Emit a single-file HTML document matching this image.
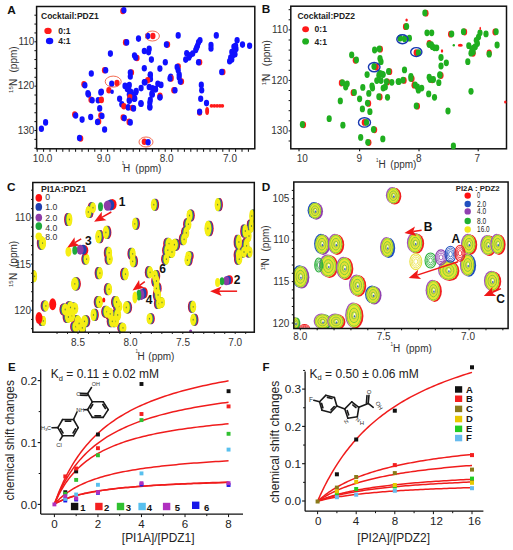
<!DOCTYPE html>
<html><head><meta charset="utf-8"><style>
html,body{margin:0;padding:0;background:#fff;}
svg{display:block;font-family:"Liberation Sans", sans-serif;}
</style></head><body>
<svg width="513" height="550" viewBox="0 0 513 550">
<rect width="513" height="550" fill="#fff"/>
<text x="7.30" y="14.30" font-size="11.8" text-anchor="start" font-weight="bold" fill="#111" >A</text>
<line x1="34.40" y1="15.20" x2="36.60" y2="15.20" stroke="#111" stroke-width="1"/>
<line x1="34.40" y1="24.07" x2="36.60" y2="24.07" stroke="#111" stroke-width="1"/>
<line x1="34.40" y1="32.94" x2="36.60" y2="32.94" stroke="#111" stroke-width="1"/>
<line x1="34.40" y1="41.81" x2="36.60" y2="41.81" stroke="#111" stroke-width="1"/>
<line x1="34.40" y1="50.68" x2="36.60" y2="50.68" stroke="#111" stroke-width="1"/>
<line x1="34.40" y1="59.55" x2="36.60" y2="59.55" stroke="#111" stroke-width="1"/>
<line x1="34.40" y1="68.42" x2="36.60" y2="68.42" stroke="#111" stroke-width="1"/>
<line x1="34.40" y1="77.29" x2="36.60" y2="77.29" stroke="#111" stroke-width="1"/>
<line x1="34.40" y1="86.16" x2="36.60" y2="86.16" stroke="#111" stroke-width="1"/>
<line x1="34.40" y1="95.03" x2="36.60" y2="95.03" stroke="#111" stroke-width="1"/>
<line x1="34.40" y1="103.90" x2="36.60" y2="103.90" stroke="#111" stroke-width="1"/>
<line x1="34.40" y1="112.77" x2="36.60" y2="112.77" stroke="#111" stroke-width="1"/>
<line x1="34.40" y1="121.64" x2="36.60" y2="121.64" stroke="#111" stroke-width="1"/>
<line x1="34.40" y1="130.51" x2="36.60" y2="130.51" stroke="#111" stroke-width="1"/>
<line x1="34.40" y1="139.38" x2="36.60" y2="139.38" stroke="#111" stroke-width="1"/>
<line x1="34.40" y1="148.25" x2="36.60" y2="148.25" stroke="#111" stroke-width="1"/>
<line x1="37.20" y1="148.80" x2="37.20" y2="151.80" stroke="#111" stroke-width="1"/>
<line x1="43.60" y1="148.80" x2="43.60" y2="151.80" stroke="#111" stroke-width="1"/>
<line x1="50.00" y1="148.80" x2="50.00" y2="151.80" stroke="#111" stroke-width="1"/>
<line x1="56.40" y1="148.80" x2="56.40" y2="151.80" stroke="#111" stroke-width="1"/>
<line x1="62.80" y1="148.80" x2="62.80" y2="151.80" stroke="#111" stroke-width="1"/>
<line x1="69.20" y1="148.80" x2="69.20" y2="151.80" stroke="#111" stroke-width="1"/>
<line x1="75.60" y1="148.80" x2="75.60" y2="151.80" stroke="#111" stroke-width="1"/>
<line x1="82.00" y1="148.80" x2="82.00" y2="151.80" stroke="#111" stroke-width="1"/>
<line x1="88.40" y1="148.80" x2="88.40" y2="151.80" stroke="#111" stroke-width="1"/>
<line x1="94.80" y1="148.80" x2="94.80" y2="151.80" stroke="#111" stroke-width="1"/>
<line x1="101.20" y1="148.80" x2="101.20" y2="151.80" stroke="#111" stroke-width="1"/>
<line x1="107.60" y1="148.80" x2="107.60" y2="151.80" stroke="#111" stroke-width="1"/>
<line x1="114.00" y1="148.80" x2="114.00" y2="151.80" stroke="#111" stroke-width="1"/>
<line x1="120.40" y1="148.80" x2="120.40" y2="151.80" stroke="#111" stroke-width="1"/>
<line x1="126.80" y1="148.80" x2="126.80" y2="151.80" stroke="#111" stroke-width="1"/>
<line x1="133.20" y1="148.80" x2="133.20" y2="151.80" stroke="#111" stroke-width="1"/>
<line x1="139.60" y1="148.80" x2="139.60" y2="151.80" stroke="#111" stroke-width="1"/>
<line x1="146.00" y1="148.80" x2="146.00" y2="151.80" stroke="#111" stroke-width="1"/>
<line x1="152.40" y1="148.80" x2="152.40" y2="151.80" stroke="#111" stroke-width="1"/>
<line x1="158.80" y1="148.80" x2="158.80" y2="151.80" stroke="#111" stroke-width="1"/>
<line x1="165.20" y1="148.80" x2="165.20" y2="151.80" stroke="#111" stroke-width="1"/>
<line x1="171.60" y1="148.80" x2="171.60" y2="151.80" stroke="#111" stroke-width="1"/>
<line x1="178.00" y1="148.80" x2="178.00" y2="151.80" stroke="#111" stroke-width="1"/>
<line x1="184.40" y1="148.80" x2="184.40" y2="151.80" stroke="#111" stroke-width="1"/>
<line x1="190.80" y1="148.80" x2="190.80" y2="151.80" stroke="#111" stroke-width="1"/>
<line x1="197.20" y1="148.80" x2="197.20" y2="151.80" stroke="#111" stroke-width="1"/>
<line x1="203.60" y1="148.80" x2="203.60" y2="151.80" stroke="#111" stroke-width="1"/>
<line x1="210.00" y1="148.80" x2="210.00" y2="151.80" stroke="#111" stroke-width="1"/>
<line x1="216.40" y1="148.80" x2="216.40" y2="151.80" stroke="#111" stroke-width="1"/>
<line x1="222.80" y1="148.80" x2="222.80" y2="151.80" stroke="#111" stroke-width="1"/>
<line x1="229.20" y1="148.80" x2="229.20" y2="151.80" stroke="#111" stroke-width="1"/>
<line x1="235.60" y1="148.80" x2="235.60" y2="151.80" stroke="#111" stroke-width="1"/>
<line x1="242.00" y1="148.80" x2="242.00" y2="151.80" stroke="#111" stroke-width="1"/>
<line x1="248.40" y1="148.80" x2="248.40" y2="151.80" stroke="#111" stroke-width="1"/>
<rect x="36.60" y="6.50" width="218.20" height="142.30" fill="none" stroke="#111" stroke-width="1.5"/>
<text x="42.60" y="161.60" font-size="10" text-anchor="middle" font-weight="normal" fill="#333" >10.0</text>
<text x="103.60" y="161.60" font-size="10" text-anchor="middle" font-weight="normal" fill="#333" >9.0</text>
<text x="166.70" y="161.60" font-size="10" text-anchor="middle" font-weight="normal" fill="#333" >8.0</text>
<text x="230.00" y="161.60" font-size="10" text-anchor="middle" font-weight="normal" fill="#333" >7.0</text>
<text x="34.40" y="45.10" font-size="10" text-anchor="end" font-weight="normal" fill="#333" >110</text>
<text x="34.40" y="89.10" font-size="10" text-anchor="end" font-weight="normal" fill="#333" >120</text>
<text x="34.40" y="134.10" font-size="10" text-anchor="end" font-weight="normal" fill="#333" >130</text>
<text x="121.70" y="165.00" font-size="4.6" fill="#333">1</text>
<text x="123.00" y="171.60" font-size="10" fill="#333">H</text>
<text x="135.30" y="171.60" font-size="10" fill="#333">(ppm)</text>
<text transform="translate(17.20,92.90) rotate(-90)" font-size="6" fill="#333" dy="-4">15</text>
<text transform="translate(17.20,86.00) rotate(-90)" font-size="10" fill="#333">N</text>
<text transform="translate(17.20,72.50) rotate(-90)" font-size="10" fill="#333">(ppm)</text>
<text x="41.00" y="19.10" font-size="8.5" text-anchor="start" font-weight="bold" fill="#222" >Cocktail:PDZ1</text>
<ellipse cx="122.80" cy="11.00" rx="2.60" ry="3.30" fill="#ff1a1a" />
<ellipse cx="123.90" cy="10.30" rx="2.60" ry="3.30" fill="#1010ff" />
<ellipse cx="138.50" cy="38.60" rx="2.60" ry="3.30" fill="#1010ff" />
<ellipse cx="125.50" cy="42.40" rx="2.60" ry="3.30" fill="#ff1a1a" />
<ellipse cx="126.70" cy="42.40" rx="2.60" ry="3.30" fill="#1010ff" />
<ellipse cx="110.40" cy="53.60" rx="2.60" ry="3.30" fill="#1010ff" />
<ellipse cx="137.00" cy="58.00" rx="2.60" ry="3.30" fill="#ff1a1a" />
<ellipse cx="134.50" cy="55.50" rx="2.60" ry="3.30" fill="#1010ff" />
<ellipse cx="135.70" cy="57.50" rx="2.60" ry="3.30" fill="#1010ff" />
<ellipse cx="144.30" cy="51.00" rx="2.60" ry="3.30" fill="#1010ff" />
<ellipse cx="104.50" cy="70.30" rx="2.60" ry="3.30" fill="#ff1a1a" />
<ellipse cx="105.70" cy="70.30" rx="2.60" ry="3.30" fill="#1010ff" />
<ellipse cx="91.30" cy="73.50" rx="2.60" ry="3.30" fill="#1010ff" />
<ellipse cx="131.50" cy="72.50" rx="2.60" ry="3.30" fill="#ff1a1a" />
<ellipse cx="130.30" cy="72.50" rx="2.60" ry="3.30" fill="#1010ff" />
<ellipse cx="144.30" cy="68.20" rx="2.60" ry="3.30" fill="#1010ff" />
<ellipse cx="147.70" cy="36.00" rx="2.60" ry="3.30" fill="#1010ff" />
<ellipse cx="152.90" cy="36.00" rx="2.60" ry="3.30" fill="#ff1a1a" />
<ellipse cx="178.20" cy="35.40" rx="2.60" ry="3.30" fill="#1010ff" />
<ellipse cx="167.60" cy="44.60" rx="2.60" ry="3.30" fill="#ff1a1a" />
<ellipse cx="166.40" cy="44.60" rx="2.60" ry="3.30" fill="#1010ff" />
<ellipse cx="149.20" cy="48.90" rx="2.60" ry="3.30" fill="#1010ff" />
<ellipse cx="148.60" cy="52.10" rx="2.60" ry="3.30" fill="#1010ff" />
<ellipse cx="151.40" cy="59.60" rx="2.60" ry="3.30" fill="#1010ff" />
<ellipse cx="165.30" cy="62.20" rx="2.60" ry="3.30" fill="#1010ff" />
<ellipse cx="159.90" cy="68.60" rx="2.60" ry="3.30" fill="#1010ff" />
<ellipse cx="178.30" cy="66.50" rx="2.60" ry="3.30" fill="#ff1a1a" />
<ellipse cx="177.10" cy="67.10" rx="2.60" ry="3.30" fill="#1010ff" />
<ellipse cx="178.20" cy="70.30" rx="2.60" ry="3.30" fill="#1010ff" />
<ellipse cx="179.20" cy="74.60" rx="2.60" ry="3.30" fill="#1010ff" />
<ellipse cx="150.30" cy="74.60" rx="2.60" ry="3.30" fill="#1010ff" />
<ellipse cx="170.70" cy="76.80" rx="2.60" ry="3.30" fill="#1010ff" />
<ellipse cx="186.70" cy="53.20" rx="2.60" ry="3.30" fill="#1010ff" />
<ellipse cx="190.00" cy="55.30" rx="2.60" ry="3.30" fill="#1010ff" />
<ellipse cx="185.70" cy="59.60" rx="2.60" ry="3.30" fill="#1010ff" />
<ellipse cx="195.70" cy="50.00" rx="2.60" ry="3.30" fill="#1010ff" />
<ellipse cx="197.50" cy="45.70" rx="2.60" ry="3.30" fill="#1010ff" />
<ellipse cx="200.00" cy="40.30" rx="2.60" ry="3.30" fill="#1010ff" />
<ellipse cx="199.70" cy="62.20" rx="2.60" ry="3.30" fill="#ff1a1a" />
<ellipse cx="198.50" cy="62.20" rx="2.60" ry="3.30" fill="#1010ff" />
<ellipse cx="216.30" cy="35.40" rx="2.60" ry="3.30" fill="#1010ff" />
<ellipse cx="211.00" cy="45.00" rx="2.60" ry="3.30" fill="#1010ff" />
<ellipse cx="211.00" cy="48.50" rx="2.60" ry="3.30" fill="#1010ff" />
<ellipse cx="222.90" cy="72.00" rx="2.60" ry="3.30" fill="#ff1a1a" />
<ellipse cx="221.70" cy="72.00" rx="2.60" ry="3.30" fill="#1010ff" />
<ellipse cx="237.10" cy="40.30" rx="2.60" ry="3.30" fill="#1010ff" />
<ellipse cx="233.90" cy="46.70" rx="2.60" ry="3.30" fill="#1010ff" />
<ellipse cx="231.80" cy="52.10" rx="2.60" ry="3.30" fill="#1010ff" />
<ellipse cx="230.70" cy="57.50" rx="2.60" ry="3.30" fill="#1010ff" />
<ellipse cx="229.60" cy="61.30" rx="2.60" ry="3.30" fill="#1010ff" />
<ellipse cx="235.00" cy="54.20" rx="2.60" ry="3.30" fill="#1010ff" />
<ellipse cx="242.50" cy="44.60" rx="2.60" ry="3.30" fill="#1010ff" />
<ellipse cx="249.60" cy="45.70" rx="2.60" ry="3.30" fill="#1010ff" />
<ellipse cx="111.70" cy="83.80" rx="2.60" ry="3.30" fill="#1010ff" />
<ellipse cx="117.00" cy="83.10" rx="2.60" ry="3.30" fill="#ff1a1a" />
<ellipse cx="108.90" cy="90.20" rx="2.60" ry="3.30" fill="#ff1a1a" />
<ellipse cx="112.10" cy="91.70" rx="1.80" ry="2.30" fill="#1010ff" />
<ellipse cx="83.90" cy="84.30" rx="2.60" ry="3.30" fill="#ff1a1a" />
<ellipse cx="84.90" cy="85.30" rx="2.60" ry="3.30" fill="#1010ff" />
<ellipse cx="87.90" cy="93.40" rx="2.60" ry="3.30" fill="#1010ff" />
<ellipse cx="88.50" cy="94.50" rx="2.60" ry="3.30" fill="#1010ff" />
<ellipse cx="100.80" cy="92.40" rx="2.60" ry="3.30" fill="#1010ff" />
<ellipse cx="91.00" cy="99.80" rx="2.60" ry="3.30" fill="#ff1a1a" />
<ellipse cx="92.20" cy="100.30" rx="2.60" ry="3.30" fill="#1010ff" />
<ellipse cx="98.20" cy="100.30" rx="2.60" ry="3.30" fill="#1010ff" />
<ellipse cx="101.40" cy="99.90" rx="2.60" ry="3.30" fill="#ff1a1a" />
<ellipse cx="99.70" cy="108.40" rx="2.60" ry="3.30" fill="#1010ff" />
<ellipse cx="100.80" cy="115.50" rx="2.60" ry="3.30" fill="#ff1a1a" />
<ellipse cx="102.00" cy="116.00" rx="2.60" ry="3.30" fill="#1010ff" />
<ellipse cx="98.70" cy="121.50" rx="2.60" ry="3.30" fill="#ff1a1a" />
<ellipse cx="97.50" cy="122.00" rx="2.60" ry="3.30" fill="#1010ff" />
<ellipse cx="104.60" cy="129.50" rx="2.60" ry="3.30" fill="#1010ff" />
<ellipse cx="74.70" cy="114.50" rx="2.60" ry="3.30" fill="#ff1a1a" />
<ellipse cx="75.70" cy="115.50" rx="2.60" ry="3.30" fill="#1010ff" />
<ellipse cx="82.10" cy="119.60" rx="2.60" ry="3.30" fill="#1010ff" />
<ellipse cx="90.70" cy="117.00" rx="2.60" ry="3.30" fill="#1010ff" />
<ellipse cx="80.70" cy="138.50" rx="2.60" ry="3.30" fill="#ff1a1a" />
<ellipse cx="79.50" cy="138.00" rx="2.60" ry="3.30" fill="#1010ff" />
<ellipse cx="45.60" cy="122.40" rx="2.60" ry="3.30" fill="#1010ff" />
<ellipse cx="41.40" cy="128.80" rx="2.60" ry="3.30" fill="#1010ff" />
<ellipse cx="125.00" cy="85.90" rx="2.60" ry="3.30" fill="#1010ff" />
<ellipse cx="128.60" cy="87.40" rx="2.60" ry="3.30" fill="#1010ff" />
<ellipse cx="130.30" cy="93.40" rx="2.60" ry="3.30" fill="#1010ff" />
<ellipse cx="135.70" cy="92.40" rx="2.60" ry="3.30" fill="#1010ff" />
<ellipse cx="141.10" cy="88.10" rx="2.60" ry="3.30" fill="#1010ff" />
<ellipse cx="144.30" cy="82.30" rx="2.60" ry="3.30" fill="#1010ff" />
<ellipse cx="119.60" cy="98.80" rx="2.60" ry="3.30" fill="#1010ff" />
<ellipse cx="121.80" cy="104.20" rx="2.60" ry="3.30" fill="#1010ff" />
<ellipse cx="123.90" cy="106.30" rx="2.60" ry="3.30" fill="#ff1a1a" />
<ellipse cx="129.30" cy="99.90" rx="2.60" ry="3.30" fill="#1010ff" />
<ellipse cx="134.20" cy="98.80" rx="2.60" ry="3.30" fill="#1010ff" />
<ellipse cx="128.20" cy="107.40" rx="2.60" ry="3.30" fill="#1010ff" />
<ellipse cx="132.40" cy="108.00" rx="2.60" ry="3.30" fill="#ff1a1a" />
<ellipse cx="133.60" cy="108.40" rx="2.60" ry="3.30" fill="#1010ff" />
<ellipse cx="141.10" cy="103.70" rx="2.60" ry="3.30" fill="#1010ff" />
<ellipse cx="123.10" cy="117.60" rx="2.60" ry="3.30" fill="#ff1a1a" />
<ellipse cx="124.30" cy="118.10" rx="2.60" ry="3.30" fill="#1010ff" />
<ellipse cx="129.10" cy="121.90" rx="2.60" ry="3.30" fill="#ff1a1a" />
<ellipse cx="130.30" cy="122.40" rx="2.60" ry="3.30" fill="#1010ff" />
<ellipse cx="144.30" cy="141.70" rx="2.60" ry="3.30" fill="#ff1a1a" />
<ellipse cx="148.10" cy="142.30" rx="2.60" ry="3.30" fill="#1010ff" />
<ellipse cx="150.30" cy="75.20" rx="2.60" ry="3.30" fill="#1010ff" />
<ellipse cx="171.20" cy="78.40" rx="2.60" ry="3.30" fill="#ff1a1a" />
<ellipse cx="170.00" cy="78.40" rx="2.60" ry="3.30" fill="#1010ff" />
<ellipse cx="179.20" cy="77.40" rx="2.60" ry="3.30" fill="#1010ff" />
<ellipse cx="181.50" cy="81.60" rx="2.60" ry="3.30" fill="#ff1a1a" />
<ellipse cx="180.30" cy="81.60" rx="2.60" ry="3.30" fill="#1010ff" />
<ellipse cx="149.20" cy="87.00" rx="2.60" ry="3.30" fill="#1010ff" />
<ellipse cx="155.60" cy="89.20" rx="2.60" ry="3.30" fill="#1010ff" />
<ellipse cx="152.40" cy="94.50" rx="2.60" ry="3.30" fill="#1010ff" />
<ellipse cx="157.80" cy="83.80" rx="2.60" ry="3.30" fill="#1010ff" />
<ellipse cx="161.00" cy="84.90" rx="2.60" ry="3.30" fill="#1010ff" />
<ellipse cx="173.80" cy="90.20" rx="2.60" ry="3.30" fill="#ff1a1a" />
<ellipse cx="175.00" cy="90.20" rx="2.60" ry="3.30" fill="#1010ff" />
<ellipse cx="159.90" cy="97.30" rx="2.60" ry="3.30" fill="#1010ff" />
<ellipse cx="150.30" cy="99.90" rx="2.60" ry="3.30" fill="#1010ff" />
<ellipse cx="149.90" cy="107.40" rx="2.60" ry="3.30" fill="#1010ff" />
<ellipse cx="201.30" cy="84.90" rx="2.60" ry="3.30" fill="#1010ff" />
<ellipse cx="201.70" cy="90.20" rx="2.60" ry="3.30" fill="#1010ff" />
<ellipse cx="200.70" cy="98.80" rx="2.60" ry="3.30" fill="#1010ff" />
<ellipse cx="206.50" cy="103.10" rx="2.60" ry="3.30" fill="#1010ff" />
<ellipse cx="199.60" cy="112.50" rx="2.60" ry="3.30" fill="#ff1a1a" />
<ellipse cx="199.60" cy="111.70" rx="2.60" ry="3.30" fill="#1010ff" />
<ellipse cx="192.70" cy="53.60" rx="2.60" ry="3.30" fill="#1010ff" />
<ellipse cx="198.50" cy="42.40" rx="2.60" ry="3.30" fill="#1010ff" />
<ellipse cx="196.60" cy="47.80" rx="2.60" ry="3.30" fill="#1010ff" />
<ellipse cx="188.90" cy="57.50" rx="2.60" ry="3.30" fill="#1010ff" />
<ellipse cx="236.00" cy="48.90" rx="2.60" ry="3.30" fill="#1010ff" />
<ellipse cx="232.80" cy="55.30" rx="2.60" ry="3.30" fill="#1010ff" />
<ellipse cx="235.60" cy="45.70" rx="2.60" ry="3.30" fill="#1010ff" />
<ellipse cx="231.80" cy="59.60" rx="2.60" ry="3.30" fill="#1010ff" />
<ellipse cx="130.30" cy="76.50" rx="2.60" ry="3.30" fill="#1010ff" />
<ellipse cx="150.50" cy="79.00" rx="2.60" ry="3.30" fill="#1010ff" />
<ellipse cx="147.70" cy="80.20" rx="2.60" ry="3.30" fill="#ff1a1a" />
<ellipse cx="145.00" cy="82.30" rx="2.60" ry="3.30" fill="#1010ff" />
<ellipse cx="129.30" cy="85.00" rx="2.60" ry="3.30" fill="#1010ff" />
<ellipse cx="127.30" cy="89.10" rx="2.60" ry="3.30" fill="#1010ff" />
<ellipse cx="130.70" cy="91.80" rx="2.60" ry="3.30" fill="#1010ff" />
<ellipse cx="129.30" cy="94.60" rx="2.60" ry="3.30" fill="#1010ff" />
<ellipse cx="136.20" cy="91.10" rx="2.60" ry="3.30" fill="#1010ff" />
<ellipse cx="133.40" cy="95.20" rx="2.60" ry="3.30" fill="#1010ff" />
<ellipse cx="130.00" cy="97.30" rx="2.60" ry="3.30" fill="#ff1a1a" />
<ellipse cx="134.80" cy="98.60" rx="2.60" ry="3.30" fill="#1010ff" />
<ellipse cx="129.30" cy="100.70" rx="2.60" ry="3.30" fill="#1010ff" />
<ellipse cx="152.50" cy="88.40" rx="2.60" ry="3.30" fill="#1010ff" />
<ellipse cx="155.30" cy="89.10" rx="2.60" ry="3.30" fill="#1010ff" />
<ellipse cx="151.80" cy="93.90" rx="2.60" ry="3.30" fill="#1010ff" />
<ellipse cx="149.80" cy="102.70" rx="2.60" ry="3.30" fill="#1010ff" />
<ellipse cx="149.80" cy="106.80" rx="2.60" ry="3.30" fill="#1010ff" />
<ellipse cx="160.00" cy="95.80" rx="2.60" ry="3.30" fill="#ff1a1a" />
<ellipse cx="160.00" cy="97.30" rx="2.60" ry="3.30" fill="#1010ff" />
<ellipse cx="140.90" cy="103.40" rx="2.60" ry="3.30" fill="#1010ff" />
<ellipse cx="101.40" cy="91.80" rx="2.60" ry="3.30" fill="#1010ff" />
<ellipse cx="207.1" cy="111" rx="2" ry="4" fill="#ff1a1a"/>
<ellipse cx="211.50" cy="105.90" rx="1.90" ry="1.80" fill="#ff1a1a" />
<ellipse cx="214.30" cy="105.90" rx="1.90" ry="1.80" fill="#ff1a1a" />
<ellipse cx="217.10" cy="105.90" rx="1.90" ry="1.80" fill="#ff1a1a" />
<ellipse cx="219.90" cy="105.90" rx="1.90" ry="1.80" fill="#ff1a1a" />
<ellipse cx="222.30" cy="105.90" rx="1.90" ry="1.80" fill="#ff1a1a" />
<ellipse cx="152.4" cy="36" rx="7" ry="5" fill="none" stroke="#f05a3c" stroke-width="0.9"/>
<ellipse cx="113.2" cy="81.6" rx="8" ry="5.5" fill="none" stroke="#f05a3c" stroke-width="0.9"/>
<ellipse cx="146" cy="142" rx="7" ry="5" fill="none" stroke="#f05a3c" stroke-width="0.9"/>
<ellipse cx="48.00" cy="30.90" rx="3.70" ry="3.10" fill="#ff1a1a" />
<ellipse cx="49.60" cy="41.00" rx="3.70" ry="3.20" fill="#1010ff" />
<text x="58.30" y="34.10" font-size="8.5" text-anchor="start" font-weight="bold" fill="#222" >0:1</text>
<text x="58.30" y="44.20" font-size="8.5" text-anchor="start" font-weight="bold" fill="#222" >4:1</text>
<text x="261.70" y="12.60" font-size="11.8" text-anchor="start" font-weight="bold" fill="#111" >B</text>
<line x1="288.60" y1="9.70" x2="290.80" y2="9.70" stroke="#111" stroke-width="1"/>
<line x1="288.60" y1="19.80" x2="290.80" y2="19.80" stroke="#111" stroke-width="1"/>
<line x1="288.60" y1="29.90" x2="290.80" y2="29.90" stroke="#111" stroke-width="1"/>
<line x1="288.60" y1="40.00" x2="290.80" y2="40.00" stroke="#111" stroke-width="1"/>
<line x1="288.60" y1="50.10" x2="290.80" y2="50.10" stroke="#111" stroke-width="1"/>
<line x1="288.60" y1="60.20" x2="290.80" y2="60.20" stroke="#111" stroke-width="1"/>
<line x1="288.60" y1="70.30" x2="290.80" y2="70.30" stroke="#111" stroke-width="1"/>
<line x1="288.60" y1="80.40" x2="290.80" y2="80.40" stroke="#111" stroke-width="1"/>
<line x1="288.60" y1="90.50" x2="290.80" y2="90.50" stroke="#111" stroke-width="1"/>
<line x1="288.60" y1="100.60" x2="290.80" y2="100.60" stroke="#111" stroke-width="1"/>
<line x1="288.60" y1="110.70" x2="290.80" y2="110.70" stroke="#111" stroke-width="1"/>
<line x1="288.60" y1="120.80" x2="290.80" y2="120.80" stroke="#111" stroke-width="1"/>
<line x1="288.60" y1="130.90" x2="290.80" y2="130.90" stroke="#111" stroke-width="1"/>
<line x1="288.60" y1="141.00" x2="290.80" y2="141.00" stroke="#111" stroke-width="1"/>
<line x1="299.00" y1="148.80" x2="299.00" y2="151.30" stroke="#111" stroke-width="1.1"/>
<line x1="359.60" y1="148.80" x2="359.60" y2="151.30" stroke="#111" stroke-width="1.1"/>
<line x1="419.00" y1="148.80" x2="419.00" y2="151.30" stroke="#111" stroke-width="1.1"/>
<line x1="478.20" y1="148.80" x2="478.20" y2="151.30" stroke="#111" stroke-width="1.1"/>
<rect x="290.80" y="6.20" width="215.70" height="142.60" fill="none" stroke="#111" stroke-width="1.5"/>
<text x="302.20" y="161.80" font-size="10" text-anchor="middle" font-weight="normal" fill="#333" >10</text>
<text x="359.40" y="161.80" font-size="10" text-anchor="middle" font-weight="normal" fill="#333" >9</text>
<text x="418.80" y="161.80" font-size="10" text-anchor="middle" font-weight="normal" fill="#333" >8</text>
<text x="477.40" y="161.80" font-size="10" text-anchor="middle" font-weight="normal" fill="#333" >7</text>
<text x="288.00" y="33.20" font-size="10" text-anchor="end" font-weight="normal" fill="#333" >110</text>
<text x="288.00" y="83.70" font-size="10" text-anchor="end" font-weight="normal" fill="#333" >120</text>
<text x="288.00" y="133.70" font-size="10" text-anchor="end" font-weight="normal" fill="#333" >130</text>
<text x="376.10" y="162.00" font-size="4.6" fill="#333">1</text>
<text x="378.50" y="168.20" font-size="10" fill="#333">H</text>
<text x="390.30" y="168.20" font-size="10" fill="#333">(ppm)</text>
<text transform="translate(270.30,85.20) rotate(-90)" font-size="6" fill="#333" dy="-4">15</text>
<text transform="translate(270.30,80.90) rotate(-90)" font-size="10" fill="#333">N</text>
<text transform="translate(270.30,66.20) rotate(-90)" font-size="10" fill="#333">(ppm)</text>
<text x="297.40" y="19.30" font-size="8.5" text-anchor="start" font-weight="bold" fill="#222" >Cocktail:PDZ2</text>
<ellipse cx="305.60" cy="29.20" rx="3.40" ry="3.00" fill="#ff1a1a" />
<ellipse cx="305.60" cy="41.40" rx="3.40" ry="3.10" fill="#1fae1f" />
<text x="314.60" y="32.40" font-size="8.5" text-anchor="start" font-weight="bold" fill="#222" >0:1</text>
<text x="314.60" y="44.60" font-size="8.5" text-anchor="start" font-weight="bold" fill="#222" >4:1</text>
<ellipse cx="355.30" cy="60.30" rx="2.60" ry="3.40" fill="#ff1a1a" />
<ellipse cx="380.40" cy="49.20" rx="2.60" ry="3.40" fill="#ff1a1a" />
<ellipse cx="389.70" cy="71.70" rx="2.60" ry="3.40" fill="#ff1a1a" />
<ellipse cx="426.00" cy="13.20" rx="2.60" ry="3.40" fill="#ff1a1a" />
<ellipse cx="405.50" cy="26.70" rx="2.60" ry="3.40" fill="#ff1a1a" />
<ellipse cx="416.20" cy="52.70" rx="2.60" ry="3.40" fill="#ff1a1a" />
<ellipse cx="429.20" cy="43.40" rx="2.60" ry="3.40" fill="#ff1a1a" />
<ellipse cx="450.60" cy="34.20" rx="2.60" ry="3.40" fill="#ff1a1a" />
<ellipse cx="464.60" cy="32.00" rx="2.60" ry="3.40" fill="#ff1a1a" />
<ellipse cx="473.10" cy="53.30" rx="2.60" ry="3.40" fill="#ff1a1a" />
<ellipse cx="495.00" cy="32.00" rx="2.60" ry="3.40" fill="#ff1a1a" />
<ellipse cx="489.20" cy="53.00" rx="2.60" ry="3.40" fill="#ff1a1a" />
<ellipse cx="387.50" cy="81.90" rx="2.60" ry="3.40" fill="#ff1a1a" />
<ellipse cx="341.40" cy="83.00" rx="2.60" ry="3.40" fill="#ff1a1a" />
<ellipse cx="353.20" cy="92.70" rx="2.60" ry="3.40" fill="#ff1a1a" />
<ellipse cx="380.00" cy="97.00" rx="2.60" ry="3.40" fill="#ff1a1a" />
<ellipse cx="368.60" cy="103.40" rx="2.60" ry="3.40" fill="#ff1a1a" />
<ellipse cx="303.50" cy="124.80" rx="2.60" ry="3.40" fill="#ff1a1a" />
<ellipse cx="364.30" cy="122.40" rx="2.60" ry="3.40" fill="#ff1a1a" />
<ellipse cx="374.60" cy="129.80" rx="2.60" ry="3.40" fill="#ff1a1a" />
<ellipse cx="368.90" cy="142.60" rx="2.60" ry="3.40" fill="#ff1a1a" />
<ellipse cx="404.10" cy="80.40" rx="2.60" ry="3.40" fill="#ff1a1a" />
<ellipse cx="412.00" cy="78.70" rx="2.60" ry="3.40" fill="#ff1a1a" />
<ellipse cx="432.30" cy="79.80" rx="2.60" ry="3.40" fill="#ff1a1a" />
<ellipse cx="441.00" cy="75.50" rx="2.60" ry="3.40" fill="#ff1a1a" />
<ellipse cx="414.10" cy="85.20" rx="2.60" ry="3.40" fill="#ff1a1a" />
<ellipse cx="417.40" cy="106.20" rx="2.60" ry="3.40" fill="#ff1a1a" />
<ellipse cx="376.20" cy="67.00" rx="2.60" ry="3.40" fill="#ff1a1a" />
<ellipse cx="351.70" cy="54.90" rx="2.60" ry="3.40" fill="#1fae1f" />
<ellipse cx="356.40" cy="60.00" rx="2.60" ry="3.40" fill="#1fae1f" />
<ellipse cx="374.60" cy="50.00" rx="2.60" ry="3.40" fill="#1fae1f" />
<ellipse cx="379.30" cy="48.90" rx="2.60" ry="3.40" fill="#1fae1f" />
<ellipse cx="380.00" cy="58.50" rx="2.60" ry="3.40" fill="#1fae1f" />
<ellipse cx="381.00" cy="61.70" rx="2.60" ry="3.40" fill="#1fae1f" />
<ellipse cx="367.10" cy="74.60" rx="2.60" ry="3.40" fill="#1fae1f" />
<ellipse cx="380.00" cy="73.50" rx="2.60" ry="3.40" fill="#1fae1f" />
<ellipse cx="388.60" cy="71.40" rx="2.60" ry="3.40" fill="#1fae1f" />
<ellipse cx="383.20" cy="74.60" rx="2.60" ry="3.40" fill="#1fae1f" />
<ellipse cx="424.90" cy="12.90" rx="2.60" ry="3.40" fill="#1fae1f" />
<ellipse cx="406.60" cy="26.40" rx="2.60" ry="3.40" fill="#1fae1f" />
<ellipse cx="400.00" cy="38.20" rx="2.60" ry="3.40" fill="#1fae1f" />
<ellipse cx="404.50" cy="38.70" rx="2.60" ry="3.40" fill="#1fae1f" />
<ellipse cx="409.40" cy="38.20" rx="2.60" ry="3.40" fill="#1fae1f" />
<ellipse cx="418.40" cy="52.70" rx="2.60" ry="3.40" fill="#1fae1f" />
<ellipse cx="427.00" cy="32.80" rx="2.60" ry="3.40" fill="#1fae1f" />
<ellipse cx="431.70" cy="32.80" rx="2.60" ry="3.40" fill="#1fae1f" />
<ellipse cx="429.20" cy="44.60" rx="2.60" ry="3.40" fill="#1fae1f" />
<ellipse cx="432.40" cy="46.70" rx="2.60" ry="3.40" fill="#1fae1f" />
<ellipse cx="436.70" cy="47.80" rx="2.60" ry="3.40" fill="#1fae1f" />
<ellipse cx="441.00" cy="57.50" rx="2.60" ry="3.40" fill="#1fae1f" />
<ellipse cx="446.30" cy="62.80" rx="2.60" ry="3.40" fill="#1fae1f" />
<ellipse cx="441.00" cy="66.00" rx="2.60" ry="3.40" fill="#1fae1f" />
<ellipse cx="451.70" cy="33.90" rx="2.60" ry="3.40" fill="#1fae1f" />
<ellipse cx="463.50" cy="31.70" rx="2.60" ry="3.40" fill="#1fae1f" />
<ellipse cx="468.80" cy="45.70" rx="2.60" ry="3.40" fill="#1fae1f" />
<ellipse cx="473.80" cy="47.80" rx="2.60" ry="3.40" fill="#1fae1f" />
<ellipse cx="473.10" cy="52.10" rx="2.60" ry="3.40" fill="#1fae1f" />
<ellipse cx="477.40" cy="43.50" rx="2.60" ry="3.40" fill="#1fae1f" />
<ellipse cx="478.50" cy="37.10" rx="2.60" ry="3.40" fill="#1fae1f" />
<ellipse cx="480.00" cy="32.80" rx="2.60" ry="3.40" fill="#1fae1f" />
<ellipse cx="486.00" cy="33.90" rx="2.60" ry="3.40" fill="#1fae1f" />
<ellipse cx="496.10" cy="31.70" rx="2.60" ry="3.40" fill="#1fae1f" />
<ellipse cx="497.10" cy="45.00" rx="2.60" ry="3.40" fill="#1fae1f" />
<ellipse cx="489.20" cy="54.20" rx="2.60" ry="3.40" fill="#1fae1f" />
<ellipse cx="467.80" cy="61.70" rx="2.60" ry="3.40" fill="#1fae1f" />
<ellipse cx="404.50" cy="69.90" rx="2.60" ry="3.40" fill="#1fae1f" />
<ellipse cx="410.90" cy="76.30" rx="2.60" ry="3.40" fill="#1fae1f" />
<ellipse cx="429.20" cy="77.20" rx="2.60" ry="3.40" fill="#1fae1f" />
<ellipse cx="439.90" cy="74.60" rx="2.60" ry="3.40" fill="#1fae1f" />
<ellipse cx="378.90" cy="75.20" rx="2.60" ry="3.40" fill="#1fae1f" />
<ellipse cx="382.10" cy="74.10" rx="2.60" ry="3.40" fill="#1fae1f" />
<ellipse cx="376.80" cy="80.60" rx="2.60" ry="3.40" fill="#1fae1f" />
<ellipse cx="381.00" cy="80.60" rx="2.60" ry="3.40" fill="#1fae1f" />
<ellipse cx="386.40" cy="81.60" rx="2.60" ry="3.40" fill="#1fae1f" />
<ellipse cx="391.80" cy="82.30" rx="2.60" ry="3.40" fill="#1fae1f" />
<ellipse cx="398.20" cy="81.60" rx="2.60" ry="3.40" fill="#1fae1f" />
<ellipse cx="342.50" cy="82.70" rx="2.60" ry="3.40" fill="#1fae1f" />
<ellipse cx="347.20" cy="83.80" rx="2.60" ry="3.40" fill="#1fae1f" />
<ellipse cx="345.70" cy="87.00" rx="2.60" ry="3.40" fill="#1fae1f" />
<ellipse cx="362.80" cy="87.40" rx="2.60" ry="3.40" fill="#1fae1f" />
<ellipse cx="372.00" cy="85.90" rx="2.60" ry="3.40" fill="#1fae1f" />
<ellipse cx="372.50" cy="88.10" rx="2.60" ry="3.40" fill="#1fae1f" />
<ellipse cx="383.20" cy="88.10" rx="2.60" ry="3.40" fill="#1fae1f" />
<ellipse cx="385.30" cy="87.00" rx="2.60" ry="3.40" fill="#1fae1f" />
<ellipse cx="354.30" cy="92.40" rx="2.60" ry="3.40" fill="#1fae1f" />
<ellipse cx="368.80" cy="93.40" rx="2.60" ry="3.40" fill="#1fae1f" />
<ellipse cx="378.90" cy="96.70" rx="2.60" ry="3.40" fill="#1fae1f" />
<ellipse cx="387.50" cy="97.30" rx="2.60" ry="3.40" fill="#1fae1f" />
<ellipse cx="340.30" cy="100.90" rx="2.60" ry="3.40" fill="#1fae1f" />
<ellipse cx="359.60" cy="98.80" rx="2.60" ry="3.40" fill="#1fae1f" />
<ellipse cx="367.50" cy="103.10" rx="2.60" ry="3.40" fill="#1fae1f" />
<ellipse cx="362.40" cy="108.90" rx="2.60" ry="3.40" fill="#1fae1f" />
<ellipse cx="369.90" cy="111.70" rx="2.60" ry="3.40" fill="#1fae1f" />
<ellipse cx="329.20" cy="118.70" rx="2.60" ry="3.40" fill="#1fae1f" />
<ellipse cx="302.40" cy="124.50" rx="2.60" ry="3.40" fill="#1fae1f" />
<ellipse cx="342.90" cy="125.20" rx="2.60" ry="3.40" fill="#1fae1f" />
<ellipse cx="366.50" cy="122.40" rx="2.60" ry="3.40" fill="#1fae1f" />
<ellipse cx="373.50" cy="129.50" rx="2.60" ry="3.40" fill="#1fae1f" />
<ellipse cx="360.70" cy="137.40" rx="2.60" ry="3.40" fill="#1fae1f" />
<ellipse cx="367.80" cy="142.30" rx="2.60" ry="3.40" fill="#1fae1f" />
<ellipse cx="382.80" cy="138.90" rx="2.60" ry="3.40" fill="#1fae1f" />
<ellipse cx="399.10" cy="81.60" rx="2.60" ry="3.40" fill="#1fae1f" />
<ellipse cx="403.00" cy="80.10" rx="2.60" ry="3.40" fill="#1fae1f" />
<ellipse cx="410.90" cy="78.40" rx="2.60" ry="3.40" fill="#1fae1f" />
<ellipse cx="430.20" cy="79.50" rx="2.60" ry="3.40" fill="#1fae1f" />
<ellipse cx="433.40" cy="79.50" rx="2.60" ry="3.40" fill="#1fae1f" />
<ellipse cx="439.90" cy="75.20" rx="2.60" ry="3.40" fill="#1fae1f" />
<ellipse cx="438.80" cy="82.70" rx="2.60" ry="3.40" fill="#1fae1f" />
<ellipse cx="415.20" cy="84.90" rx="2.60" ry="3.40" fill="#1fae1f" />
<ellipse cx="417.40" cy="87.00" rx="2.60" ry="3.40" fill="#1fae1f" />
<ellipse cx="421.70" cy="88.10" rx="2.60" ry="3.40" fill="#1fae1f" />
<ellipse cx="418.40" cy="90.20" rx="2.60" ry="3.40" fill="#1fae1f" />
<ellipse cx="428.70" cy="93.90" rx="2.60" ry="3.40" fill="#1fae1f" />
<ellipse cx="434.50" cy="97.30" rx="2.60" ry="3.40" fill="#1fae1f" />
<ellipse cx="416.30" cy="105.90" rx="2.60" ry="3.40" fill="#1fae1f" />
<ellipse cx="448.00" cy="111.00" rx="2.60" ry="3.40" fill="#1fae1f" />
<ellipse cx="471.00" cy="91.30" rx="2.60" ry="3.40" fill="#1fae1f" />
<ellipse cx="453.40" cy="146.00" rx="2.60" ry="3.40" fill="#1fae1f" />
<ellipse cx="374.00" cy="66.50" rx="2.60" ry="3.40" fill="#1fae1f" />
<ellipse cx="476.30" cy="40.30" rx="2.60" ry="3.40" fill="#1fae1f" />
<ellipse cx="475.30" cy="46.70" rx="2.60" ry="3.40" fill="#1fae1f" />
<ellipse cx="472.00" cy="48.90" rx="2.60" ry="3.40" fill="#1fae1f" />
<ellipse cx="471.00" cy="53.20" rx="2.60" ry="3.40" fill="#1fae1f" />
<ellipse cx="431.30" cy="44.60" rx="2.60" ry="3.40" fill="#1fae1f" />
<ellipse cx="434.50" cy="47.80" rx="2.60" ry="3.40" fill="#1fae1f" />
<ellipse cx="406.60" cy="19.90" rx="1.20" ry="1.50" fill="#ff1a1a" />
<ellipse cx="442.00" cy="51.00" rx="1.20" ry="1.80" fill="#ff1a1a" />
<ellipse cx="460.30" cy="45.20" rx="2.50" ry="1.50" fill="#ff1a1a" />
<ellipse cx="480.20" cy="28.50" rx="0.80" ry="1.80" fill="#ff1a1a" />
<ellipse cx="505.30" cy="102.00" rx="1.20" ry="1.50" fill="#ff1a1a" />
<ellipse cx="453.80" cy="45.20" rx="1.20" ry="1.20" fill="#1fae1f" />
<ellipse cx="374.2" cy="67.1" rx="5.8" ry="4.6" fill="none" stroke="#1838b0" stroke-width="1.4"/>
<ellipse cx="402.4" cy="39.2" rx="5.6" ry="4.5" fill="none" stroke="#1838b0" stroke-width="1.4"/>
<ellipse cx="416.3" cy="52.1" rx="5.6" ry="4.5" fill="none" stroke="#1838b0" stroke-width="1.4"/>
<ellipse cx="364.5" cy="122.4" rx="6" ry="4.7" fill="none" stroke="#1838b0" stroke-width="1.4"/>
<text x="7.00" y="190.70" font-size="11.8" text-anchor="start" font-weight="bold" fill="#111" >C</text>
<clipPath id="clipC"><rect x="33" y="183" width="221" height="149"/></clipPath>
<g clip-path="url(#clipC)">
<ellipse cx="90.70" cy="207.70" rx="3.00" ry="5.50" fill="#ff1010" />
<ellipse cx="91.30" cy="207.70" rx="3.00" ry="5.50" fill="#2040b0" />
<ellipse cx="91.90" cy="207.70" rx="3.00" ry="5.50" fill="#8c3ca8" />
<ellipse cx="92.45" cy="207.70" rx="3.00" ry="5.50" fill="#1ea83c" />
<ellipse cx="90.60" cy="212.00" rx="3.00" ry="6.05" fill="#ff1010" />
<ellipse cx="90.00" cy="212.00" rx="3.00" ry="6.05" fill="#2040b0" />
<ellipse cx="89.40" cy="212.00" rx="3.00" ry="6.05" fill="#8c3ca8" />
<ellipse cx="88.85" cy="212.00" rx="3.00" ry="6.05" fill="#1ea83c" />
<ellipse cx="67.10" cy="219.50" rx="3.00" ry="6.60" fill="#ff1010" />
<ellipse cx="67.70" cy="219.50" rx="3.00" ry="6.60" fill="#2040b0" />
<ellipse cx="68.30" cy="219.50" rx="3.00" ry="6.60" fill="#8c3ca8" />
<ellipse cx="68.85" cy="219.50" rx="3.00" ry="6.60" fill="#1ea83c" />
<ellipse cx="137.10" cy="223.80" rx="2.80" ry="6.05" fill="#ff1010" />
<ellipse cx="136.50" cy="223.80" rx="2.80" ry="6.05" fill="#2040b0" />
<ellipse cx="135.90" cy="223.80" rx="2.80" ry="6.05" fill="#8c3ca8" />
<ellipse cx="135.35" cy="223.80" rx="2.80" ry="6.05" fill="#1ea83c" />
<ellipse cx="100.70" cy="236.70" rx="3.20" ry="6.60" fill="#ff1010" />
<ellipse cx="100.10" cy="236.70" rx="3.20" ry="6.60" fill="#2040b0" />
<ellipse cx="99.50" cy="236.70" rx="3.20" ry="6.60" fill="#8c3ca8" />
<ellipse cx="98.95" cy="236.70" rx="3.20" ry="6.60" fill="#1ea83c" />
<ellipse cx="108.20" cy="232.40" rx="3.20" ry="6.60" fill="#ff1010" />
<ellipse cx="107.60" cy="232.40" rx="3.20" ry="6.60" fill="#2040b0" />
<ellipse cx="107.00" cy="232.40" rx="3.20" ry="6.60" fill="#8c3ca8" />
<ellipse cx="106.45" cy="232.40" rx="3.20" ry="6.60" fill="#1ea83c" />
<ellipse cx="40.30" cy="243.10" rx="3.50" ry="6.60" fill="#ff1010" />
<ellipse cx="40.90" cy="243.10" rx="3.50" ry="6.60" fill="#2040b0" />
<ellipse cx="41.50" cy="243.10" rx="3.50" ry="6.60" fill="#8c3ca8" />
<ellipse cx="42.05" cy="243.10" rx="3.50" ry="6.60" fill="#1ea83c" />
<ellipse cx="106.80" cy="252.80" rx="3.00" ry="6.05" fill="#ff1010" />
<ellipse cx="107.40" cy="252.80" rx="3.00" ry="6.05" fill="#2040b0" />
<ellipse cx="108.00" cy="252.80" rx="3.00" ry="6.05" fill="#8c3ca8" />
<ellipse cx="108.55" cy="252.80" rx="3.00" ry="6.05" fill="#1ea83c" />
<ellipse cx="130.40" cy="253.80" rx="3.00" ry="6.05" fill="#ff1010" />
<ellipse cx="131.00" cy="253.80" rx="3.00" ry="6.05" fill="#2040b0" />
<ellipse cx="131.60" cy="253.80" rx="3.00" ry="6.05" fill="#8c3ca8" />
<ellipse cx="132.15" cy="253.80" rx="3.00" ry="6.05" fill="#1ea83c" />
<ellipse cx="156.10" cy="204.70" rx="3.00" ry="6.05" fill="#ff1010" />
<ellipse cx="155.50" cy="204.70" rx="3.00" ry="6.05" fill="#2040b0" />
<ellipse cx="154.90" cy="204.70" rx="3.00" ry="6.05" fill="#8c3ca8" />
<ellipse cx="154.35" cy="204.70" rx="3.00" ry="6.05" fill="#1ea83c" />
<ellipse cx="219.90" cy="204.70" rx="3.00" ry="6.60" fill="#ff1010" />
<ellipse cx="219.30" cy="204.70" rx="3.00" ry="6.60" fill="#2040b0" />
<ellipse cx="218.70" cy="204.70" rx="3.00" ry="6.60" fill="#8c3ca8" />
<ellipse cx="218.15" cy="204.70" rx="3.00" ry="6.60" fill="#1ea83c" />
<ellipse cx="191.80" cy="215.50" rx="3.00" ry="6.05" fill="#ff1010" />
<ellipse cx="191.20" cy="215.50" rx="3.00" ry="6.05" fill="#2040b0" />
<ellipse cx="190.60" cy="215.50" rx="3.00" ry="6.05" fill="#8c3ca8" />
<ellipse cx="190.05" cy="215.50" rx="3.00" ry="6.05" fill="#1ea83c" />
<ellipse cx="186.10" cy="224.20" rx="3.00" ry="6.05" fill="#ff1010" />
<ellipse cx="186.70" cy="224.20" rx="3.00" ry="6.05" fill="#2040b0" />
<ellipse cx="187.30" cy="224.20" rx="3.00" ry="6.05" fill="#8c3ca8" />
<ellipse cx="187.85" cy="224.20" rx="3.00" ry="6.05" fill="#1ea83c" />
<ellipse cx="184.00" cy="232.80" rx="3.00" ry="6.05" fill="#ff1010" />
<ellipse cx="184.60" cy="232.80" rx="3.00" ry="6.05" fill="#2040b0" />
<ellipse cx="185.20" cy="232.80" rx="3.00" ry="6.05" fill="#8c3ca8" />
<ellipse cx="185.75" cy="232.80" rx="3.00" ry="6.05" fill="#1ea83c" />
<ellipse cx="181.80" cy="239.30" rx="3.00" ry="6.05" fill="#ff1010" />
<ellipse cx="182.40" cy="239.30" rx="3.00" ry="6.05" fill="#2040b0" />
<ellipse cx="183.00" cy="239.30" rx="3.00" ry="6.05" fill="#8c3ca8" />
<ellipse cx="183.55" cy="239.30" rx="3.00" ry="6.05" fill="#1ea83c" />
<ellipse cx="210.20" cy="228.50" rx="3.50" ry="7.70" fill="#ff1010" />
<ellipse cx="209.60" cy="228.50" rx="3.50" ry="7.70" fill="#2040b0" />
<ellipse cx="209.00" cy="228.50" rx="3.50" ry="7.70" fill="#8c3ca8" />
<ellipse cx="208.45" cy="228.50" rx="3.50" ry="7.70" fill="#1ea83c" />
<ellipse cx="166.70" cy="243.70" rx="3.50" ry="6.05" fill="#ff1010" />
<ellipse cx="167.30" cy="243.70" rx="3.50" ry="6.05" fill="#2040b0" />
<ellipse cx="167.90" cy="243.70" rx="3.50" ry="6.05" fill="#8c3ca8" />
<ellipse cx="168.45" cy="243.70" rx="3.50" ry="6.05" fill="#1ea83c" />
<ellipse cx="176.70" cy="244.70" rx="3.50" ry="6.05" fill="#ff1010" />
<ellipse cx="176.10" cy="244.70" rx="3.50" ry="6.05" fill="#2040b0" />
<ellipse cx="175.50" cy="244.70" rx="3.50" ry="6.05" fill="#8c3ca8" />
<ellipse cx="174.95" cy="244.70" rx="3.50" ry="6.05" fill="#1ea83c" />
<ellipse cx="165.60" cy="250.20" rx="3.50" ry="6.05" fill="#ff1010" />
<ellipse cx="166.20" cy="250.20" rx="3.50" ry="6.05" fill="#2040b0" />
<ellipse cx="166.80" cy="250.20" rx="3.50" ry="6.05" fill="#8c3ca8" />
<ellipse cx="167.35" cy="250.20" rx="3.50" ry="6.05" fill="#1ea83c" />
<ellipse cx="169.70" cy="252.00" rx="3.50" ry="6.05" fill="#ff1010" />
<ellipse cx="170.30" cy="252.00" rx="3.50" ry="6.05" fill="#2040b0" />
<ellipse cx="170.90" cy="252.00" rx="3.50" ry="6.05" fill="#8c3ca8" />
<ellipse cx="171.45" cy="252.00" rx="3.50" ry="6.05" fill="#1ea83c" />
<ellipse cx="190.70" cy="256.00" rx="3.00" ry="4.40" fill="#ff1010" />
<ellipse cx="190.10" cy="256.00" rx="3.00" ry="4.40" fill="#2040b0" />
<ellipse cx="189.50" cy="256.00" rx="3.00" ry="4.40" fill="#8c3ca8" />
<ellipse cx="188.95" cy="256.00" rx="3.00" ry="4.40" fill="#1ea83c" />
<ellipse cx="254.10" cy="216.00" rx="2.60" ry="6.60" fill="#ff1010" />
<ellipse cx="253.50" cy="216.00" rx="2.60" ry="6.60" fill="#2040b0" />
<ellipse cx="252.90" cy="216.00" rx="2.60" ry="6.60" fill="#8c3ca8" />
<ellipse cx="252.35" cy="216.00" rx="2.60" ry="6.60" fill="#1ea83c" />
<ellipse cx="249.20" cy="226.00" rx="2.60" ry="6.60" fill="#ff1010" />
<ellipse cx="249.80" cy="226.00" rx="2.60" ry="6.60" fill="#2040b0" />
<ellipse cx="250.40" cy="226.00" rx="2.60" ry="6.60" fill="#8c3ca8" />
<ellipse cx="250.95" cy="226.00" rx="2.60" ry="6.60" fill="#1ea83c" />
<ellipse cx="243.00" cy="231.00" rx="2.80" ry="6.60" fill="#ff1010" />
<ellipse cx="243.60" cy="231.00" rx="2.80" ry="6.60" fill="#2040b0" />
<ellipse cx="244.20" cy="231.00" rx="2.80" ry="6.60" fill="#8c3ca8" />
<ellipse cx="244.75" cy="231.00" rx="2.80" ry="6.60" fill="#1ea83c" />
<ellipse cx="236.60" cy="242.00" rx="3.00" ry="7.15" fill="#ff1010" />
<ellipse cx="237.20" cy="242.00" rx="3.00" ry="7.15" fill="#2040b0" />
<ellipse cx="237.80" cy="242.00" rx="3.00" ry="7.15" fill="#8c3ca8" />
<ellipse cx="238.35" cy="242.00" rx="3.00" ry="7.15" fill="#1ea83c" />
<ellipse cx="244.30" cy="245.80" rx="3.00" ry="7.70" fill="#ff1010" />
<ellipse cx="244.90" cy="245.80" rx="3.00" ry="7.70" fill="#2040b0" />
<ellipse cx="245.50" cy="245.80" rx="3.00" ry="7.70" fill="#8c3ca8" />
<ellipse cx="246.05" cy="245.80" rx="3.00" ry="7.70" fill="#1ea83c" />
<ellipse cx="236.60" cy="255.00" rx="3.00" ry="6.05" fill="#ff1010" />
<ellipse cx="237.20" cy="255.00" rx="3.00" ry="6.05" fill="#2040b0" />
<ellipse cx="237.80" cy="255.00" rx="3.00" ry="6.05" fill="#8c3ca8" />
<ellipse cx="238.35" cy="255.00" rx="3.00" ry="6.05" fill="#1ea83c" />
<ellipse cx="241.70" cy="252.00" rx="3.00" ry="5.50" fill="#ff1010" />
<ellipse cx="242.30" cy="252.00" rx="3.00" ry="5.50" fill="#2040b0" />
<ellipse cx="242.90" cy="252.00" rx="3.00" ry="5.50" fill="#8c3ca8" />
<ellipse cx="243.45" cy="252.00" rx="3.00" ry="5.50" fill="#1ea83c" />
<ellipse cx="84.30" cy="259.10" rx="3.00" ry="5.50" fill="#ff1010" />
<ellipse cx="84.90" cy="259.10" rx="3.00" ry="5.50" fill="#2040b0" />
<ellipse cx="85.50" cy="259.10" rx="3.00" ry="5.50" fill="#8c3ca8" />
<ellipse cx="86.05" cy="259.10" rx="3.00" ry="5.50" fill="#1ea83c" />
<ellipse cx="107.50" cy="259.10" rx="3.00" ry="5.50" fill="#ff1010" />
<ellipse cx="108.10" cy="259.10" rx="3.00" ry="5.50" fill="#2040b0" />
<ellipse cx="108.70" cy="259.10" rx="3.00" ry="5.50" fill="#8c3ca8" />
<ellipse cx="109.25" cy="259.10" rx="3.00" ry="5.50" fill="#1ea83c" />
<ellipse cx="135.00" cy="261.30" rx="3.00" ry="6.05" fill="#ff1010" />
<ellipse cx="134.40" cy="261.30" rx="3.00" ry="6.05" fill="#2040b0" />
<ellipse cx="133.80" cy="261.30" rx="3.00" ry="6.05" fill="#8c3ca8" />
<ellipse cx="133.25" cy="261.30" rx="3.00" ry="6.05" fill="#1ea83c" />
<ellipse cx="32.30" cy="276.30" rx="2.50" ry="6.05" fill="#ff1010" />
<ellipse cx="32.90" cy="276.30" rx="2.50" ry="6.05" fill="#2040b0" />
<ellipse cx="33.50" cy="276.30" rx="2.50" ry="6.05" fill="#8c3ca8" />
<ellipse cx="34.05" cy="276.30" rx="2.50" ry="6.05" fill="#1ea83c" />
<ellipse cx="97.60" cy="273.10" rx="3.00" ry="6.05" fill="#ff1010" />
<ellipse cx="98.20" cy="273.10" rx="3.00" ry="6.05" fill="#2040b0" />
<ellipse cx="98.80" cy="273.10" rx="3.00" ry="6.05" fill="#8c3ca8" />
<ellipse cx="99.35" cy="273.10" rx="3.00" ry="6.05" fill="#1ea83c" />
<ellipse cx="123.30" cy="273.70" rx="3.00" ry="6.05" fill="#ff1010" />
<ellipse cx="123.90" cy="273.70" rx="3.00" ry="6.05" fill="#2040b0" />
<ellipse cx="124.50" cy="273.70" rx="3.00" ry="6.05" fill="#8c3ca8" />
<ellipse cx="125.05" cy="273.70" rx="3.00" ry="6.05" fill="#1ea83c" />
<ellipse cx="77.10" cy="283.80" rx="3.80" ry="6.60" fill="#ff1010" />
<ellipse cx="76.50" cy="283.80" rx="3.80" ry="6.60" fill="#2040b0" />
<ellipse cx="75.90" cy="283.80" rx="3.80" ry="6.60" fill="#8c3ca8" />
<ellipse cx="75.35" cy="283.80" rx="3.80" ry="6.60" fill="#1ea83c" />
<ellipse cx="106.80" cy="289.20" rx="3.00" ry="6.05" fill="#ff1010" />
<ellipse cx="107.40" cy="289.20" rx="3.00" ry="6.05" fill="#2040b0" />
<ellipse cx="108.00" cy="289.20" rx="3.00" ry="6.05" fill="#8c3ca8" />
<ellipse cx="108.55" cy="289.20" rx="3.00" ry="6.05" fill="#1ea83c" />
<ellipse cx="43.60" cy="305.90" rx="3.00" ry="5.50" fill="#ff1010" />
<ellipse cx="44.20" cy="305.90" rx="3.00" ry="5.50" fill="#2040b0" />
<ellipse cx="44.80" cy="305.90" rx="3.00" ry="5.50" fill="#8c3ca8" />
<ellipse cx="45.35" cy="305.90" rx="3.00" ry="5.50" fill="#1ea83c" />
<ellipse cx="41.00" cy="320.90" rx="2.80" ry="4.95" fill="#ff1010" />
<ellipse cx="41.60" cy="320.90" rx="2.80" ry="4.95" fill="#2040b0" />
<ellipse cx="42.20" cy="320.90" rx="2.80" ry="4.95" fill="#8c3ca8" />
<ellipse cx="42.75" cy="320.90" rx="2.80" ry="4.95" fill="#1ea83c" />
<ellipse cx="62.90" cy="309.50" rx="3.50" ry="6.05" fill="#ff1010" />
<ellipse cx="63.50" cy="309.50" rx="3.50" ry="6.05" fill="#2040b0" />
<ellipse cx="64.10" cy="309.50" rx="3.50" ry="6.05" fill="#8c3ca8" />
<ellipse cx="64.65" cy="309.50" rx="3.50" ry="6.05" fill="#1ea83c" />
<ellipse cx="72.50" cy="308.50" rx="3.50" ry="6.05" fill="#ff1010" />
<ellipse cx="73.10" cy="308.50" rx="3.50" ry="6.05" fill="#2040b0" />
<ellipse cx="73.70" cy="308.50" rx="3.50" ry="6.05" fill="#8c3ca8" />
<ellipse cx="74.25" cy="308.50" rx="3.50" ry="6.05" fill="#1ea83c" />
<ellipse cx="69.30" cy="316.00" rx="3.50" ry="6.05" fill="#ff1010" />
<ellipse cx="69.90" cy="316.00" rx="3.50" ry="6.05" fill="#2040b0" />
<ellipse cx="70.50" cy="316.00" rx="3.50" ry="6.05" fill="#8c3ca8" />
<ellipse cx="71.05" cy="316.00" rx="3.50" ry="6.05" fill="#1ea83c" />
<ellipse cx="75.70" cy="321.30" rx="3.50" ry="6.05" fill="#ff1010" />
<ellipse cx="76.30" cy="321.30" rx="3.50" ry="6.05" fill="#2040b0" />
<ellipse cx="76.90" cy="321.30" rx="3.50" ry="6.05" fill="#8c3ca8" />
<ellipse cx="77.45" cy="321.30" rx="3.50" ry="6.05" fill="#1ea83c" />
<ellipse cx="86.80" cy="321.30" rx="3.50" ry="6.05" fill="#ff1010" />
<ellipse cx="86.20" cy="321.30" rx="3.50" ry="6.05" fill="#2040b0" />
<ellipse cx="85.60" cy="321.30" rx="3.50" ry="6.05" fill="#8c3ca8" />
<ellipse cx="85.05" cy="321.30" rx="3.50" ry="6.05" fill="#1ea83c" />
<ellipse cx="73.60" cy="326.70" rx="3.50" ry="5.50" fill="#ff1010" />
<ellipse cx="74.20" cy="326.70" rx="3.50" ry="5.50" fill="#2040b0" />
<ellipse cx="74.80" cy="326.70" rx="3.50" ry="5.50" fill="#8c3ca8" />
<ellipse cx="75.35" cy="326.70" rx="3.50" ry="5.50" fill="#1ea83c" />
<ellipse cx="95.80" cy="314.90" rx="3.00" ry="6.05" fill="#ff1010" />
<ellipse cx="95.20" cy="314.90" rx="3.00" ry="6.05" fill="#2040b0" />
<ellipse cx="94.60" cy="314.90" rx="3.00" ry="6.05" fill="#8c3ca8" />
<ellipse cx="94.05" cy="314.90" rx="3.00" ry="6.05" fill="#1ea83c" />
<ellipse cx="97.20" cy="302.00" rx="3.50" ry="6.05" fill="#ff1010" />
<ellipse cx="97.80" cy="302.00" rx="3.50" ry="6.05" fill="#2040b0" />
<ellipse cx="98.40" cy="302.00" rx="3.50" ry="6.05" fill="#8c3ca8" />
<ellipse cx="98.95" cy="302.00" rx="3.50" ry="6.05" fill="#1ea83c" />
<ellipse cx="104.70" cy="311.70" rx="3.50" ry="6.05" fill="#ff1010" />
<ellipse cx="105.30" cy="311.70" rx="3.50" ry="6.05" fill="#2040b0" />
<ellipse cx="105.90" cy="311.70" rx="3.50" ry="6.05" fill="#8c3ca8" />
<ellipse cx="106.45" cy="311.70" rx="3.50" ry="6.05" fill="#1ea83c" />
<ellipse cx="116.50" cy="306.30" rx="3.50" ry="6.05" fill="#ff1010" />
<ellipse cx="117.10" cy="306.30" rx="3.50" ry="6.05" fill="#2040b0" />
<ellipse cx="117.70" cy="306.30" rx="3.50" ry="6.05" fill="#8c3ca8" />
<ellipse cx="118.25" cy="306.30" rx="3.50" ry="6.05" fill="#1ea83c" />
<ellipse cx="128.60" cy="307.40" rx="3.50" ry="6.05" fill="#ff1010" />
<ellipse cx="128.00" cy="307.40" rx="3.50" ry="6.05" fill="#2040b0" />
<ellipse cx="127.40" cy="307.40" rx="3.50" ry="6.05" fill="#8c3ca8" />
<ellipse cx="126.85" cy="307.40" rx="3.50" ry="6.05" fill="#1ea83c" />
<ellipse cx="115.40" cy="314.90" rx="3.50" ry="6.05" fill="#ff1010" />
<ellipse cx="116.00" cy="314.90" rx="3.50" ry="6.05" fill="#2040b0" />
<ellipse cx="116.60" cy="314.90" rx="3.50" ry="6.05" fill="#8c3ca8" />
<ellipse cx="117.15" cy="314.90" rx="3.50" ry="6.05" fill="#1ea83c" />
<ellipse cx="113.20" cy="321.30" rx="3.50" ry="6.05" fill="#ff1010" />
<ellipse cx="113.80" cy="321.30" rx="3.50" ry="6.05" fill="#2040b0" />
<ellipse cx="114.40" cy="321.30" rx="3.50" ry="6.05" fill="#8c3ca8" />
<ellipse cx="114.95" cy="321.30" rx="3.50" ry="6.05" fill="#1ea83c" />
<ellipse cx="120.70" cy="327.80" rx="3.50" ry="4.95" fill="#ff1010" />
<ellipse cx="121.30" cy="327.80" rx="3.50" ry="4.95" fill="#2040b0" />
<ellipse cx="121.90" cy="327.80" rx="3.50" ry="4.95" fill="#8c3ca8" />
<ellipse cx="122.45" cy="327.80" rx="3.50" ry="4.95" fill="#1ea83c" />
<ellipse cx="123.20" cy="274.10" rx="3.00" ry="6.05" fill="#ff1010" />
<ellipse cx="123.80" cy="274.10" rx="3.00" ry="6.05" fill="#2040b0" />
<ellipse cx="124.40" cy="274.10" rx="3.00" ry="6.05" fill="#8c3ca8" />
<ellipse cx="124.95" cy="274.10" rx="3.00" ry="6.05" fill="#1ea83c" />
<ellipse cx="164.10" cy="259.20" rx="3.00" ry="5.50" fill="#ff1010" />
<ellipse cx="164.70" cy="259.20" rx="3.00" ry="5.50" fill="#2040b0" />
<ellipse cx="165.30" cy="259.20" rx="3.00" ry="5.50" fill="#8c3ca8" />
<ellipse cx="165.85" cy="259.20" rx="3.00" ry="5.50" fill="#1ea83c" />
<ellipse cx="189.70" cy="260.20" rx="3.00" ry="5.50" fill="#ff1010" />
<ellipse cx="189.10" cy="260.20" rx="3.00" ry="5.50" fill="#2040b0" />
<ellipse cx="188.50" cy="260.20" rx="3.00" ry="5.50" fill="#8c3ca8" />
<ellipse cx="187.95" cy="260.20" rx="3.00" ry="5.50" fill="#1ea83c" />
<ellipse cx="237.00" cy="259.20" rx="3.00" ry="5.50" fill="#ff1010" />
<ellipse cx="237.60" cy="259.20" rx="3.00" ry="5.50" fill="#2040b0" />
<ellipse cx="238.20" cy="259.20" rx="3.00" ry="5.50" fill="#8c3ca8" />
<ellipse cx="238.75" cy="259.20" rx="3.00" ry="5.50" fill="#1ea83c" />
<ellipse cx="147.80" cy="272.30" rx="3.00" ry="6.05" fill="#ff1010" />
<ellipse cx="148.40" cy="272.30" rx="3.00" ry="6.05" fill="#2040b0" />
<ellipse cx="149.00" cy="272.30" rx="3.00" ry="6.05" fill="#8c3ca8" />
<ellipse cx="149.55" cy="272.30" rx="3.00" ry="6.05" fill="#1ea83c" />
<ellipse cx="157.20" cy="276.00" rx="3.00" ry="6.05" fill="#ff1010" />
<ellipse cx="156.60" cy="276.00" rx="3.00" ry="6.05" fill="#2040b0" />
<ellipse cx="156.00" cy="276.00" rx="3.00" ry="6.05" fill="#8c3ca8" />
<ellipse cx="155.45" cy="276.00" rx="3.00" ry="6.05" fill="#1ea83c" />
<ellipse cx="154.20" cy="281.00" rx="3.00" ry="6.05" fill="#ff1010" />
<ellipse cx="154.80" cy="281.00" rx="3.00" ry="6.05" fill="#2040b0" />
<ellipse cx="155.40" cy="281.00" rx="3.00" ry="6.05" fill="#8c3ca8" />
<ellipse cx="155.95" cy="281.00" rx="3.00" ry="6.05" fill="#1ea83c" />
<ellipse cx="158.70" cy="288.40" rx="3.00" ry="6.05" fill="#ff1010" />
<ellipse cx="158.10" cy="288.40" rx="3.00" ry="6.05" fill="#2040b0" />
<ellipse cx="157.50" cy="288.40" rx="3.00" ry="6.05" fill="#8c3ca8" />
<ellipse cx="156.95" cy="288.40" rx="3.00" ry="6.05" fill="#1ea83c" />
<ellipse cx="155.80" cy="294.90" rx="3.00" ry="6.05" fill="#ff1010" />
<ellipse cx="156.40" cy="294.90" rx="3.00" ry="6.05" fill="#2040b0" />
<ellipse cx="157.00" cy="294.90" rx="3.00" ry="6.05" fill="#8c3ca8" />
<ellipse cx="157.55" cy="294.90" rx="3.00" ry="6.05" fill="#1ea83c" />
<ellipse cx="156.90" cy="303.50" rx="3.00" ry="5.50" fill="#ff1010" />
<ellipse cx="157.50" cy="303.50" rx="3.00" ry="5.50" fill="#2040b0" />
<ellipse cx="158.10" cy="303.50" rx="3.00" ry="5.50" fill="#8c3ca8" />
<ellipse cx="158.65" cy="303.50" rx="3.00" ry="5.50" fill="#1ea83c" />
<ellipse cx="159.70" cy="302.40" rx="3.00" ry="5.50" fill="#ff1010" />
<ellipse cx="160.30" cy="302.40" rx="3.00" ry="5.50" fill="#2040b0" />
<ellipse cx="160.90" cy="302.40" rx="3.00" ry="5.50" fill="#8c3ca8" />
<ellipse cx="161.45" cy="302.40" rx="3.00" ry="5.50" fill="#1ea83c" />
<ellipse cx="151.80" cy="318.70" rx="3.00" ry="5.50" fill="#ff1010" />
<ellipse cx="151.20" cy="318.70" rx="3.00" ry="5.50" fill="#2040b0" />
<ellipse cx="150.60" cy="318.70" rx="3.00" ry="5.50" fill="#8c3ca8" />
<ellipse cx="150.05" cy="318.70" rx="3.00" ry="5.50" fill="#1ea83c" />
<ellipse cx="190.90" cy="306.80" rx="3.00" ry="6.05" fill="#ff1010" />
<ellipse cx="191.50" cy="306.80" rx="3.00" ry="6.05" fill="#2040b0" />
<ellipse cx="192.10" cy="306.80" rx="3.00" ry="6.05" fill="#8c3ca8" />
<ellipse cx="192.65" cy="306.80" rx="3.00" ry="6.05" fill="#1ea83c" />
<ellipse cx="195.50" cy="319.70" rx="3.00" ry="6.05" fill="#ff1010" />
<ellipse cx="194.90" cy="319.70" rx="3.00" ry="6.05" fill="#2040b0" />
<ellipse cx="194.30" cy="319.70" rx="3.00" ry="6.05" fill="#8c3ca8" />
<ellipse cx="193.75" cy="319.70" rx="3.00" ry="6.05" fill="#1ea83c" />
<ellipse cx="68.20" cy="307.40" rx="3.50" ry="6.05" fill="#ff1010" />
<ellipse cx="68.80" cy="307.40" rx="3.50" ry="6.05" fill="#2040b0" />
<ellipse cx="69.40" cy="307.40" rx="3.50" ry="6.05" fill="#8c3ca8" />
<ellipse cx="69.95" cy="307.40" rx="3.50" ry="6.05" fill="#1ea83c" />
<ellipse cx="66.10" cy="317.00" rx="3.50" ry="6.05" fill="#ff1010" />
<ellipse cx="66.70" cy="317.00" rx="3.50" ry="6.05" fill="#2040b0" />
<ellipse cx="67.30" cy="317.00" rx="3.50" ry="6.05" fill="#8c3ca8" />
<ellipse cx="67.85" cy="317.00" rx="3.50" ry="6.05" fill="#1ea83c" />
<ellipse cx="76.80" cy="323.50" rx="3.50" ry="6.05" fill="#ff1010" />
<ellipse cx="77.40" cy="323.50" rx="3.50" ry="6.05" fill="#2040b0" />
<ellipse cx="78.00" cy="323.50" rx="3.50" ry="6.05" fill="#8c3ca8" />
<ellipse cx="78.55" cy="323.50" rx="3.50" ry="6.05" fill="#1ea83c" />
<ellipse cx="82.30" cy="330.10" rx="3.50" ry="4.95" fill="#ff1010" />
<ellipse cx="82.30" cy="329.50" rx="3.50" ry="4.95" fill="#2040b0" />
<ellipse cx="82.30" cy="328.90" rx="3.50" ry="4.95" fill="#8c3ca8" />
<ellipse cx="82.30" cy="328.35" rx="3.50" ry="4.95" fill="#1ea83c" />
<ellipse cx="114.30" cy="302.00" rx="3.30" ry="6.05" fill="#ff1010" />
<ellipse cx="114.90" cy="302.00" rx="3.30" ry="6.05" fill="#2040b0" />
<ellipse cx="115.50" cy="302.00" rx="3.30" ry="6.05" fill="#8c3ca8" />
<ellipse cx="116.05" cy="302.00" rx="3.30" ry="6.05" fill="#1ea83c" />
<ellipse cx="107.90" cy="313.80" rx="3.30" ry="6.05" fill="#ff1010" />
<ellipse cx="108.50" cy="313.80" rx="3.30" ry="6.05" fill="#2040b0" />
<ellipse cx="109.10" cy="313.80" rx="3.30" ry="6.05" fill="#8c3ca8" />
<ellipse cx="109.65" cy="313.80" rx="3.30" ry="6.05" fill="#1ea83c" />
<ellipse cx="110.00" cy="321.30" rx="3.30" ry="6.05" fill="#ff1010" />
<ellipse cx="110.60" cy="321.30" rx="3.30" ry="6.05" fill="#2040b0" />
<ellipse cx="111.20" cy="321.30" rx="3.30" ry="6.05" fill="#8c3ca8" />
<ellipse cx="111.75" cy="321.30" rx="3.30" ry="6.05" fill="#1ea83c" />
<ellipse cx="246.70" cy="236.00" rx="2.60" ry="6.05" fill="#ff1010" />
<ellipse cx="247.30" cy="236.00" rx="2.60" ry="6.05" fill="#2040b0" />
<ellipse cx="247.90" cy="236.00" rx="2.60" ry="6.05" fill="#8c3ca8" />
<ellipse cx="248.45" cy="236.00" rx="2.60" ry="6.05" fill="#1ea83c" />
<ellipse cx="247.70" cy="252.00" rx="2.60" ry="5.50" fill="#ff1010" />
<ellipse cx="248.30" cy="252.00" rx="2.60" ry="5.50" fill="#2040b0" />
<ellipse cx="248.90" cy="252.00" rx="2.60" ry="5.50" fill="#8c3ca8" />
<ellipse cx="249.45" cy="252.00" rx="2.60" ry="5.50" fill="#1ea83c" />
<ellipse cx="93.00" cy="207.70" rx="3.00" ry="5.50" fill="#f6ee14" />
<ellipse cx="93.00" cy="207.70" rx="0.60" ry="0.90" fill="#6a8a3a" />
<ellipse cx="88.30" cy="212.00" rx="3.00" ry="6.05" fill="#f6ee14" />
<ellipse cx="88.30" cy="212.00" rx="0.60" ry="0.90" fill="#6a8a3a" />
<ellipse cx="69.40" cy="219.50" rx="3.00" ry="6.60" fill="#f6ee14" />
<ellipse cx="69.40" cy="219.50" rx="0.60" ry="0.90" fill="#6a8a3a" />
<ellipse cx="134.80" cy="223.80" rx="2.80" ry="6.05" fill="#f6ee14" />
<ellipse cx="134.80" cy="223.80" rx="0.60" ry="0.90" fill="#6a8a3a" />
<ellipse cx="98.40" cy="236.70" rx="3.20" ry="6.60" fill="#f6ee14" />
<ellipse cx="98.40" cy="236.70" rx="0.60" ry="0.90" fill="#6a8a3a" />
<ellipse cx="105.90" cy="232.40" rx="3.20" ry="6.60" fill="#f6ee14" />
<ellipse cx="105.90" cy="232.40" rx="0.60" ry="0.90" fill="#6a8a3a" />
<ellipse cx="42.60" cy="243.10" rx="3.50" ry="6.60" fill="#f6ee14" />
<ellipse cx="42.60" cy="243.10" rx="0.60" ry="0.90" fill="#6a8a3a" />
<ellipse cx="109.10" cy="252.80" rx="3.00" ry="6.05" fill="#f6ee14" />
<ellipse cx="109.10" cy="252.80" rx="0.60" ry="0.90" fill="#6a8a3a" />
<ellipse cx="132.70" cy="253.80" rx="3.00" ry="6.05" fill="#f6ee14" />
<ellipse cx="132.70" cy="253.80" rx="0.60" ry="0.90" fill="#6a8a3a" />
<ellipse cx="153.80" cy="204.70" rx="3.00" ry="6.05" fill="#f6ee14" />
<ellipse cx="153.80" cy="204.70" rx="0.60" ry="0.90" fill="#6a8a3a" />
<ellipse cx="217.60" cy="204.70" rx="3.00" ry="6.60" fill="#f6ee14" />
<ellipse cx="217.60" cy="204.70" rx="0.60" ry="0.90" fill="#6a8a3a" />
<ellipse cx="189.50" cy="215.50" rx="3.00" ry="6.05" fill="#f6ee14" />
<ellipse cx="189.50" cy="215.50" rx="0.60" ry="0.90" fill="#6a8a3a" />
<ellipse cx="188.40" cy="224.20" rx="3.00" ry="6.05" fill="#f6ee14" />
<ellipse cx="188.40" cy="224.20" rx="0.60" ry="0.90" fill="#6a8a3a" />
<ellipse cx="186.30" cy="232.80" rx="3.00" ry="6.05" fill="#f6ee14" />
<ellipse cx="186.30" cy="232.80" rx="0.60" ry="0.90" fill="#6a8a3a" />
<ellipse cx="184.10" cy="239.30" rx="3.00" ry="6.05" fill="#f6ee14" />
<ellipse cx="184.10" cy="239.30" rx="0.60" ry="0.90" fill="#6a8a3a" />
<ellipse cx="207.90" cy="228.50" rx="3.50" ry="7.70" fill="#f6ee14" />
<ellipse cx="207.90" cy="228.50" rx="0.60" ry="0.90" fill="#6a8a3a" />
<ellipse cx="169.00" cy="243.70" rx="3.50" ry="6.05" fill="#f6ee14" />
<ellipse cx="169.00" cy="243.70" rx="0.60" ry="0.90" fill="#6a8a3a" />
<ellipse cx="174.40" cy="244.70" rx="3.50" ry="6.05" fill="#f6ee14" />
<ellipse cx="174.40" cy="244.70" rx="0.60" ry="0.90" fill="#6a8a3a" />
<ellipse cx="167.90" cy="250.20" rx="3.50" ry="6.05" fill="#f6ee14" />
<ellipse cx="167.90" cy="250.20" rx="0.60" ry="0.90" fill="#6a8a3a" />
<ellipse cx="172.00" cy="252.00" rx="3.50" ry="6.05" fill="#f6ee14" />
<ellipse cx="172.00" cy="252.00" rx="0.60" ry="0.90" fill="#6a8a3a" />
<ellipse cx="188.40" cy="256.00" rx="3.00" ry="4.40" fill="#f6ee14" />
<ellipse cx="188.40" cy="256.00" rx="0.60" ry="0.90" fill="#6a8a3a" />
<ellipse cx="251.80" cy="216.00" rx="2.60" ry="6.60" fill="#f6ee14" />
<ellipse cx="251.80" cy="216.00" rx="0.60" ry="0.90" fill="#6a8a3a" />
<ellipse cx="251.50" cy="226.00" rx="2.60" ry="6.60" fill="#f6ee14" />
<ellipse cx="251.50" cy="226.00" rx="0.60" ry="0.90" fill="#6a8a3a" />
<ellipse cx="245.30" cy="231.00" rx="2.80" ry="6.60" fill="#f6ee14" />
<ellipse cx="245.30" cy="231.00" rx="0.60" ry="0.90" fill="#6a8a3a" />
<ellipse cx="238.90" cy="242.00" rx="3.00" ry="7.15" fill="#f6ee14" />
<ellipse cx="238.90" cy="242.00" rx="0.60" ry="0.90" fill="#6a8a3a" />
<ellipse cx="246.60" cy="245.80" rx="3.00" ry="7.70" fill="#f6ee14" />
<ellipse cx="246.60" cy="245.80" rx="0.60" ry="0.90" fill="#6a8a3a" />
<ellipse cx="238.90" cy="255.00" rx="3.00" ry="6.05" fill="#f6ee14" />
<ellipse cx="238.90" cy="255.00" rx="0.60" ry="0.90" fill="#6a8a3a" />
<ellipse cx="244.00" cy="252.00" rx="3.00" ry="5.50" fill="#f6ee14" />
<ellipse cx="244.00" cy="252.00" rx="0.60" ry="0.90" fill="#6a8a3a" />
<ellipse cx="86.60" cy="259.10" rx="3.00" ry="5.50" fill="#f6ee14" />
<ellipse cx="86.60" cy="259.10" rx="0.60" ry="0.90" fill="#6a8a3a" />
<ellipse cx="109.80" cy="259.10" rx="3.00" ry="5.50" fill="#f6ee14" />
<ellipse cx="109.80" cy="259.10" rx="0.60" ry="0.90" fill="#6a8a3a" />
<ellipse cx="132.70" cy="261.30" rx="3.00" ry="6.05" fill="#f6ee14" />
<ellipse cx="132.70" cy="261.30" rx="0.60" ry="0.90" fill="#6a8a3a" />
<ellipse cx="34.60" cy="276.30" rx="2.50" ry="6.05" fill="#f6ee14" />
<ellipse cx="34.60" cy="276.30" rx="0.60" ry="0.90" fill="#6a8a3a" />
<ellipse cx="99.90" cy="273.10" rx="3.00" ry="6.05" fill="#f6ee14" />
<ellipse cx="99.90" cy="273.10" rx="0.60" ry="0.90" fill="#6a8a3a" />
<ellipse cx="125.60" cy="273.70" rx="3.00" ry="6.05" fill="#f6ee14" />
<ellipse cx="125.60" cy="273.70" rx="0.60" ry="0.90" fill="#6a8a3a" />
<ellipse cx="74.80" cy="283.80" rx="3.80" ry="6.60" fill="#f6ee14" />
<ellipse cx="74.80" cy="283.80" rx="0.60" ry="0.90" fill="#6a8a3a" />
<ellipse cx="109.10" cy="289.20" rx="3.00" ry="6.05" fill="#f6ee14" />
<ellipse cx="109.10" cy="289.20" rx="0.60" ry="0.90" fill="#6a8a3a" />
<ellipse cx="45.90" cy="305.90" rx="3.00" ry="5.50" fill="#f6ee14" />
<ellipse cx="45.90" cy="305.90" rx="0.60" ry="0.90" fill="#6a8a3a" />
<ellipse cx="43.30" cy="320.90" rx="2.80" ry="4.95" fill="#f6ee14" />
<ellipse cx="43.30" cy="320.90" rx="0.60" ry="0.90" fill="#6a8a3a" />
<ellipse cx="65.20" cy="309.50" rx="3.50" ry="6.05" fill="#f6ee14" />
<ellipse cx="65.20" cy="309.50" rx="0.60" ry="0.90" fill="#6a8a3a" />
<ellipse cx="74.80" cy="308.50" rx="3.50" ry="6.05" fill="#f6ee14" />
<ellipse cx="74.80" cy="308.50" rx="0.60" ry="0.90" fill="#6a8a3a" />
<ellipse cx="71.60" cy="316.00" rx="3.50" ry="6.05" fill="#f6ee14" />
<ellipse cx="71.60" cy="316.00" rx="0.60" ry="0.90" fill="#6a8a3a" />
<ellipse cx="78.00" cy="321.30" rx="3.50" ry="6.05" fill="#f6ee14" />
<ellipse cx="78.00" cy="321.30" rx="0.60" ry="0.90" fill="#6a8a3a" />
<ellipse cx="84.50" cy="321.30" rx="3.50" ry="6.05" fill="#f6ee14" />
<ellipse cx="84.50" cy="321.30" rx="0.60" ry="0.90" fill="#6a8a3a" />
<ellipse cx="75.90" cy="326.70" rx="3.50" ry="5.50" fill="#f6ee14" />
<ellipse cx="75.90" cy="326.70" rx="0.60" ry="0.90" fill="#6a8a3a" />
<ellipse cx="93.50" cy="314.90" rx="3.00" ry="6.05" fill="#f6ee14" />
<ellipse cx="93.50" cy="314.90" rx="0.60" ry="0.90" fill="#6a8a3a" />
<ellipse cx="99.50" cy="302.00" rx="3.50" ry="6.05" fill="#f6ee14" />
<ellipse cx="99.50" cy="302.00" rx="0.60" ry="0.90" fill="#6a8a3a" />
<ellipse cx="107.00" cy="311.70" rx="3.50" ry="6.05" fill="#f6ee14" />
<ellipse cx="107.00" cy="311.70" rx="0.60" ry="0.90" fill="#6a8a3a" />
<ellipse cx="118.80" cy="306.30" rx="3.50" ry="6.05" fill="#f6ee14" />
<ellipse cx="118.80" cy="306.30" rx="0.60" ry="0.90" fill="#6a8a3a" />
<ellipse cx="126.30" cy="307.40" rx="3.50" ry="6.05" fill="#f6ee14" />
<ellipse cx="126.30" cy="307.40" rx="0.60" ry="0.90" fill="#6a8a3a" />
<ellipse cx="117.70" cy="314.90" rx="3.50" ry="6.05" fill="#f6ee14" />
<ellipse cx="117.70" cy="314.90" rx="0.60" ry="0.90" fill="#6a8a3a" />
<ellipse cx="115.50" cy="321.30" rx="3.50" ry="6.05" fill="#f6ee14" />
<ellipse cx="115.50" cy="321.30" rx="0.60" ry="0.90" fill="#6a8a3a" />
<ellipse cx="123.00" cy="327.80" rx="3.50" ry="4.95" fill="#f6ee14" />
<ellipse cx="123.00" cy="327.80" rx="0.60" ry="0.90" fill="#6a8a3a" />
<ellipse cx="125.50" cy="274.10" rx="3.00" ry="6.05" fill="#f6ee14" />
<ellipse cx="125.50" cy="274.10" rx="0.60" ry="0.90" fill="#6a8a3a" />
<ellipse cx="166.40" cy="259.20" rx="3.00" ry="5.50" fill="#f6ee14" />
<ellipse cx="166.40" cy="259.20" rx="0.60" ry="0.90" fill="#6a8a3a" />
<ellipse cx="187.40" cy="260.20" rx="3.00" ry="5.50" fill="#f6ee14" />
<ellipse cx="187.40" cy="260.20" rx="0.60" ry="0.90" fill="#6a8a3a" />
<ellipse cx="239.30" cy="259.20" rx="3.00" ry="5.50" fill="#f6ee14" />
<ellipse cx="239.30" cy="259.20" rx="0.60" ry="0.90" fill="#6a8a3a" />
<ellipse cx="150.10" cy="272.30" rx="3.00" ry="6.05" fill="#f6ee14" />
<ellipse cx="150.10" cy="272.30" rx="0.60" ry="0.90" fill="#6a8a3a" />
<ellipse cx="154.90" cy="276.00" rx="3.00" ry="6.05" fill="#f6ee14" />
<ellipse cx="154.90" cy="276.00" rx="0.60" ry="0.90" fill="#6a8a3a" />
<ellipse cx="156.50" cy="281.00" rx="3.00" ry="6.05" fill="#f6ee14" />
<ellipse cx="156.50" cy="281.00" rx="0.60" ry="0.90" fill="#6a8a3a" />
<ellipse cx="156.40" cy="288.40" rx="3.00" ry="6.05" fill="#f6ee14" />
<ellipse cx="156.40" cy="288.40" rx="0.60" ry="0.90" fill="#6a8a3a" />
<ellipse cx="158.10" cy="294.90" rx="3.00" ry="6.05" fill="#f6ee14" />
<ellipse cx="158.10" cy="294.90" rx="0.60" ry="0.90" fill="#6a8a3a" />
<ellipse cx="159.20" cy="303.50" rx="3.00" ry="5.50" fill="#f6ee14" />
<ellipse cx="159.20" cy="303.50" rx="0.60" ry="0.90" fill="#6a8a3a" />
<ellipse cx="162.00" cy="302.40" rx="3.00" ry="5.50" fill="#f6ee14" />
<ellipse cx="162.00" cy="302.40" rx="0.60" ry="0.90" fill="#6a8a3a" />
<ellipse cx="149.50" cy="318.70" rx="3.00" ry="5.50" fill="#f6ee14" />
<ellipse cx="149.50" cy="318.70" rx="0.60" ry="0.90" fill="#6a8a3a" />
<ellipse cx="193.20" cy="306.80" rx="3.00" ry="6.05" fill="#f6ee14" />
<ellipse cx="193.20" cy="306.80" rx="0.60" ry="0.90" fill="#6a8a3a" />
<ellipse cx="193.20" cy="319.70" rx="3.00" ry="6.05" fill="#f6ee14" />
<ellipse cx="193.20" cy="319.70" rx="0.60" ry="0.90" fill="#6a8a3a" />
<ellipse cx="70.50" cy="307.40" rx="3.50" ry="6.05" fill="#f6ee14" />
<ellipse cx="70.50" cy="307.40" rx="0.60" ry="0.90" fill="#6a8a3a" />
<ellipse cx="68.40" cy="317.00" rx="3.50" ry="6.05" fill="#f6ee14" />
<ellipse cx="68.40" cy="317.00" rx="0.60" ry="0.90" fill="#6a8a3a" />
<ellipse cx="79.10" cy="323.50" rx="3.50" ry="6.05" fill="#f6ee14" />
<ellipse cx="79.10" cy="323.50" rx="0.60" ry="0.90" fill="#6a8a3a" />
<ellipse cx="82.30" cy="327.80" rx="3.50" ry="4.95" fill="#f6ee14" />
<ellipse cx="82.30" cy="327.80" rx="0.60" ry="0.90" fill="#6a8a3a" />
<ellipse cx="116.60" cy="302.00" rx="3.30" ry="6.05" fill="#f6ee14" />
<ellipse cx="116.60" cy="302.00" rx="0.60" ry="0.90" fill="#6a8a3a" />
<ellipse cx="110.20" cy="313.80" rx="3.30" ry="6.05" fill="#f6ee14" />
<ellipse cx="110.20" cy="313.80" rx="0.60" ry="0.90" fill="#6a8a3a" />
<ellipse cx="112.30" cy="321.30" rx="3.30" ry="6.05" fill="#f6ee14" />
<ellipse cx="112.30" cy="321.30" rx="0.60" ry="0.90" fill="#6a8a3a" />
<ellipse cx="249.00" cy="236.00" rx="2.60" ry="6.05" fill="#f6ee14" />
<ellipse cx="249.00" cy="236.00" rx="0.60" ry="0.90" fill="#6a8a3a" />
<ellipse cx="250.00" cy="252.00" rx="2.60" ry="5.50" fill="#f6ee14" />
<ellipse cx="250.00" cy="252.00" rx="0.60" ry="0.90" fill="#6a8a3a" />
<ellipse cx="112.30" cy="204.50" rx="4.30" ry="5.60" fill="#ff1010" />
<ellipse cx="110.30" cy="205.00" rx="4.00" ry="5.50" fill="#2040b0" />
<ellipse cx="107.50" cy="205.60" rx="3.80" ry="5.20" fill="#8c3ca8" />
<ellipse cx="100.50" cy="206.70" rx="2.50" ry="4.50" fill="#1ea83c" />
<ellipse cx="84.80" cy="250.20" rx="3.50" ry="5.00" fill="#ff1010" />
<ellipse cx="83.20" cy="249.80" rx="3.50" ry="5.00" fill="#2040b0" />
<ellipse cx="80.20" cy="249.80" rx="3.50" ry="5.00" fill="#8c3ca8" />
<ellipse cx="74.80" cy="250.20" rx="2.50" ry="4.50" fill="#1ea83c" />
<ellipse cx="68.40" cy="251.70" rx="3.00" ry="5.00" fill="#f6ee14" />
<ellipse cx="144.80" cy="292.80" rx="3.00" ry="5.50" fill="#ff1010" />
<ellipse cx="143.50" cy="293.40" rx="3.00" ry="5.50" fill="#2040b0" />
<ellipse cx="141.30" cy="294.60" rx="3.00" ry="5.50" fill="#8c3ca8" />
<ellipse cx="138.80" cy="295.10" rx="2.50" ry="5.50" fill="#1ea83c" />
<ellipse cx="134.90" cy="297.50" rx="2.50" ry="6.00" fill="#f6ee14" />
<ellipse cx="229.50" cy="279.70" rx="3.50" ry="4.50" fill="#ff1010" />
<ellipse cx="228.00" cy="280.30" rx="3.30" ry="4.50" fill="#2040b0" />
<ellipse cx="226.30" cy="280.80" rx="3.00" ry="4.50" fill="#8c3ca8" />
<ellipse cx="222.00" cy="281.20" rx="2.30" ry="4.00" fill="#1ea83c" />
<ellipse cx="217.60" cy="282.50" rx="2.50" ry="4.50" fill="#f6ee14" />
<ellipse cx="52.70" cy="304.20" rx="3.50" ry="6.00" fill="#ff1010" />
<ellipse cx="39.00" cy="318.10" rx="3.50" ry="6.00" fill="#ff1010" />
<ellipse cx="103.80" cy="299.90" rx="1.50" ry="2.50" fill="#ff1010" />
<ellipse cx="190.60" cy="331.00" rx="1.50" ry="1.50" fill="#8c3ca8" />
</g>
<line x1="31.00" y1="190.20" x2="32.80" y2="190.20" stroke="#111" stroke-width="0.9"/>
<line x1="31.00" y1="199.43" x2="32.80" y2="199.43" stroke="#111" stroke-width="0.9"/>
<line x1="31.00" y1="208.66" x2="32.80" y2="208.66" stroke="#111" stroke-width="0.9"/>
<line x1="31.00" y1="217.89" x2="32.80" y2="217.89" stroke="#111" stroke-width="0.9"/>
<line x1="31.00" y1="227.12" x2="32.80" y2="227.12" stroke="#111" stroke-width="0.9"/>
<line x1="31.00" y1="236.35" x2="32.80" y2="236.35" stroke="#111" stroke-width="0.9"/>
<line x1="31.00" y1="245.58" x2="32.80" y2="245.58" stroke="#111" stroke-width="0.9"/>
<line x1="31.00" y1="254.81" x2="32.80" y2="254.81" stroke="#111" stroke-width="0.9"/>
<line x1="31.00" y1="264.04" x2="32.80" y2="264.04" stroke="#111" stroke-width="0.9"/>
<line x1="31.00" y1="273.27" x2="32.80" y2="273.27" stroke="#111" stroke-width="0.9"/>
<line x1="31.00" y1="282.50" x2="32.80" y2="282.50" stroke="#111" stroke-width="0.9"/>
<line x1="31.00" y1="291.73" x2="32.80" y2="291.73" stroke="#111" stroke-width="0.9"/>
<line x1="31.00" y1="300.96" x2="32.80" y2="300.96" stroke="#111" stroke-width="0.9"/>
<line x1="31.00" y1="310.19" x2="32.80" y2="310.19" stroke="#111" stroke-width="0.9"/>
<line x1="31.00" y1="319.42" x2="32.80" y2="319.42" stroke="#111" stroke-width="0.9"/>
<line x1="31.00" y1="328.65" x2="32.80" y2="328.65" stroke="#111" stroke-width="0.9"/>
<line x1="57.04" y1="332.20" x2="57.04" y2="334.00" stroke="#111" stroke-width="0.9"/>
<line x1="67.52" y1="332.20" x2="67.52" y2="334.00" stroke="#111" stroke-width="0.9"/>
<line x1="78.00" y1="332.20" x2="78.00" y2="334.00" stroke="#111" stroke-width="0.9"/>
<line x1="88.48" y1="332.20" x2="88.48" y2="334.00" stroke="#111" stroke-width="0.9"/>
<line x1="98.96" y1="332.20" x2="98.96" y2="334.00" stroke="#111" stroke-width="0.9"/>
<line x1="109.44" y1="332.20" x2="109.44" y2="334.00" stroke="#111" stroke-width="0.9"/>
<line x1="119.92" y1="332.20" x2="119.92" y2="334.00" stroke="#111" stroke-width="0.9"/>
<line x1="130.40" y1="332.20" x2="130.40" y2="334.00" stroke="#111" stroke-width="0.9"/>
<line x1="140.88" y1="332.20" x2="140.88" y2="334.00" stroke="#111" stroke-width="0.9"/>
<line x1="151.36" y1="332.20" x2="151.36" y2="334.00" stroke="#111" stroke-width="0.9"/>
<line x1="161.84" y1="332.20" x2="161.84" y2="334.00" stroke="#111" stroke-width="0.9"/>
<line x1="172.32" y1="332.20" x2="172.32" y2="334.00" stroke="#111" stroke-width="0.9"/>
<line x1="182.80" y1="332.20" x2="182.80" y2="334.00" stroke="#111" stroke-width="0.9"/>
<line x1="193.28" y1="332.20" x2="193.28" y2="334.00" stroke="#111" stroke-width="0.9"/>
<line x1="203.76" y1="332.20" x2="203.76" y2="334.00" stroke="#111" stroke-width="0.9"/>
<line x1="214.24" y1="332.20" x2="214.24" y2="334.00" stroke="#111" stroke-width="0.9"/>
<line x1="224.72" y1="332.20" x2="224.72" y2="334.00" stroke="#111" stroke-width="0.9"/>
<line x1="235.20" y1="332.20" x2="235.20" y2="334.00" stroke="#111" stroke-width="0.9"/>
<line x1="245.68" y1="332.20" x2="245.68" y2="334.00" stroke="#111" stroke-width="0.9"/>
<rect x="32.80" y="182.50" width="221.50" height="149.70" fill="none" stroke="#111" stroke-width="1.5"/>
<text x="78.00" y="346.00" font-size="10" text-anchor="middle" font-weight="normal" fill="#333" >8.5</text>
<text x="130.50" y="346.00" font-size="10" text-anchor="middle" font-weight="normal" fill="#333" >8.0</text>
<text x="183.00" y="346.00" font-size="10" text-anchor="middle" font-weight="normal" fill="#333" >7.5</text>
<text x="235.20" y="346.00" font-size="10" text-anchor="middle" font-weight="normal" fill="#333" >7.0</text>
<text x="31.00" y="221.30" font-size="10" text-anchor="end" font-weight="normal" fill="#333" >110</text>
<text x="31.00" y="268.10" font-size="10" text-anchor="end" font-weight="normal" fill="#333" >115</text>
<text x="31.00" y="314.10" font-size="10" text-anchor="end" font-weight="normal" fill="#333" >120</text>
<text x="135.60" y="353.00" font-size="4.6" fill="#333">1</text>
<text x="137.60" y="359.60" font-size="10" fill="#333">H</text>
<text x="148.30" y="359.60" font-size="10" fill="#333">(ppm)</text>
<text transform="translate(16.60,287.00) rotate(-90)" font-size="6" fill="#333" dy="-4">15</text>
<text transform="translate(16.60,280.00) rotate(-90)" font-size="10" fill="#333">N</text>
<text transform="translate(16.60,267.00) rotate(-90)" font-size="10" fill="#333">(ppm)</text>
<text x="41.10" y="191.60" font-size="8.8" text-anchor="start" font-weight="bold" fill="#222" >PI1A:PDZ1</text>
<ellipse cx="38.80" cy="197.80" rx="3.30" ry="3.90" fill="#ff1010" />
<text x="45.20" y="200.20" font-size="8.7" text-anchor="start" font-weight="normal" fill="#333" >0</text>
<ellipse cx="38.80" cy="206.90" rx="3.30" ry="3.90" fill="#2040b0" />
<text x="45.20" y="210.30" font-size="8.7" text-anchor="start" font-weight="normal" fill="#333" >1.0</text>
<ellipse cx="38.80" cy="217.60" rx="3.30" ry="3.90" fill="#8c3ca8" />
<text x="45.20" y="221.20" font-size="8.7" text-anchor="start" font-weight="normal" fill="#333" >2.0</text>
<ellipse cx="38.80" cy="226.10" rx="3.30" ry="3.90" fill="#1ea83c" />
<text x="45.20" y="230.80" font-size="8.7" text-anchor="start" font-weight="normal" fill="#333" >4.0</text>
<ellipse cx="38.80" cy="236.30" rx="3.30" ry="3.90" fill="#f6ee14" />
<text x="45.20" y="239.60" font-size="8.7" text-anchor="start" font-weight="normal" fill="#333" >8.0</text>
<text x="122.00" y="205.60" font-size="12" text-anchor="middle" font-weight="bold" fill="#111" >1</text>
<text x="88.30" y="244.60" font-size="12" text-anchor="middle" font-weight="bold" fill="#111" >3</text>
<text x="162.50" y="273.20" font-size="12" text-anchor="middle" font-weight="bold" fill="#111" >6</text>
<text x="149.20" y="303.80" font-size="12" text-anchor="middle" font-weight="bold" fill="#111" >4</text>
<text x="237.10" y="284.00" font-size="12" text-anchor="middle" font-weight="bold" fill="#111" >2</text>
<line x1="111.30" y1="212.00" x2="101.85" y2="217.33" stroke="#f01818" stroke-width="1.5"/>
<polygon points="94.10,221.70 101.76,211.87 101.85,217.33 106.47,220.23" fill="#f01818"/>
<line x1="81.20" y1="238.80" x2="74.87" y2="242.72" stroke="#f01818" stroke-width="1.5"/>
<polygon points="67.30,247.40 74.55,237.27 74.87,242.72 79.61,245.43" fill="#f01818"/>
<line x1="144.80" y1="281.70" x2="139.74" y2="285.32" stroke="#f01818" stroke-width="1.5"/>
<polygon points="132.50,290.50 139.06,279.90 139.74,285.32 144.65,287.71" fill="#f01818"/>
<line x1="237.10" y1="291.20" x2="219.00" y2="291.20" stroke="#f01818" stroke-width="1.5"/>
<polygon points="210.10,291.20 221.60,286.40 219.00,291.20 221.60,296.00" fill="#f01818"/>
<text x="261.70" y="190.60" font-size="11.8" text-anchor="start" font-weight="bold" fill="#111" >D</text>
<clipPath id="clipD"><rect x="294" y="182.5" width="214" height="146"/></clipPath>
<g clip-path="url(#clipD)">
<ellipse cx="394.60" cy="196.20" rx="6.72" ry="8.38" fill="#f02020" />
<ellipse cx="392.30" cy="195.30" rx="6.42" ry="8.18" fill="#a050c0" />
<ellipse cx="393.30" cy="195.70" rx="6.22" ry="7.88" fill="#dcec34" />
<ellipse cx="393.30" cy="195.70" rx="5.60" ry="7.10" fill="none" stroke="#86c83a" stroke-width="0.9"/>
<ellipse cx="393.30" cy="195.70" rx="4.60" ry="5.83" fill="none" stroke="#f2e22a" stroke-width="0.8"/>
<ellipse cx="393.30" cy="195.70" rx="3.73" ry="4.73" fill="none" stroke="#7cc43c" stroke-width="0.9"/>
<ellipse cx="393.30" cy="195.70" rx="2.80" ry="3.55" fill="none" stroke="#e8d040" stroke-width="0.8"/>
<ellipse cx="393.30" cy="195.70" rx="1.87" ry="2.37" fill="none" stroke="#78b848" stroke-width="0.8"/>
<ellipse cx="393.80" cy="195.70" rx="0.87" ry="1.73" fill="#fafae8" />
<ellipse cx="393.80" cy="196.70" rx="0.80" ry="1.10" fill="#4060c0" />
<ellipse cx="316.30" cy="211.20" rx="6.72" ry="8.49" fill="#9040b0" />
<ellipse cx="314.00" cy="210.30" rx="6.42" ry="8.29" fill="#2050c0" />
<ellipse cx="315.00" cy="210.70" rx="6.22" ry="7.99" fill="#dcec34" />
<ellipse cx="315.00" cy="210.70" rx="5.60" ry="7.19" fill="none" stroke="#86c83a" stroke-width="0.9"/>
<ellipse cx="315.00" cy="210.70" rx="4.60" ry="5.91" fill="none" stroke="#f2e22a" stroke-width="0.8"/>
<ellipse cx="315.00" cy="210.70" rx="3.73" ry="4.80" fill="none" stroke="#7cc43c" stroke-width="0.9"/>
<ellipse cx="315.00" cy="210.70" rx="2.80" ry="3.60" fill="none" stroke="#e8d040" stroke-width="0.8"/>
<ellipse cx="315.00" cy="210.70" rx="1.87" ry="2.40" fill="none" stroke="#78b848" stroke-width="0.8"/>
<ellipse cx="315.50" cy="210.70" rx="0.87" ry="1.76" fill="#fafae8" />
<ellipse cx="315.50" cy="211.70" rx="0.80" ry="1.10" fill="#4060c0" />
<ellipse cx="323.20" cy="244.70" rx="7.13" ry="10.22" fill="#9040b0" />
<ellipse cx="320.90" cy="243.80" rx="6.83" ry="10.02" fill="#2050c0" />
<ellipse cx="321.90" cy="244.20" rx="6.63" ry="9.72" fill="#dcec34" />
<ellipse cx="321.90" cy="244.20" rx="5.97" ry="8.75" fill="none" stroke="#86c83a" stroke-width="0.9"/>
<ellipse cx="321.90" cy="244.20" rx="4.91" ry="7.19" fill="none" stroke="#f2e22a" stroke-width="0.8"/>
<ellipse cx="321.90" cy="244.20" rx="3.98" ry="5.83" fill="none" stroke="#7cc43c" stroke-width="0.9"/>
<ellipse cx="321.90" cy="244.20" rx="2.98" ry="4.37" fill="none" stroke="#e8d040" stroke-width="0.8"/>
<ellipse cx="321.90" cy="244.20" rx="1.99" ry="2.92" fill="none" stroke="#78b848" stroke-width="0.8"/>
<ellipse cx="322.40" cy="244.20" rx="0.93" ry="2.14" fill="#fafae8" />
<ellipse cx="322.40" cy="245.20" rx="0.80" ry="1.10" fill="#4060c0" />
<ellipse cx="337.10" cy="244.70" rx="7.13" ry="10.22" fill="#f02020" />
<ellipse cx="334.80" cy="243.80" rx="6.83" ry="10.02" fill="#a050c0" />
<ellipse cx="335.80" cy="244.20" rx="6.63" ry="9.72" fill="#dcec34" />
<ellipse cx="335.80" cy="244.20" rx="5.97" ry="8.75" fill="none" stroke="#86c83a" stroke-width="0.9"/>
<ellipse cx="335.80" cy="244.20" rx="4.91" ry="7.19" fill="none" stroke="#f2e22a" stroke-width="0.8"/>
<ellipse cx="335.80" cy="244.20" rx="3.98" ry="5.83" fill="none" stroke="#7cc43c" stroke-width="0.9"/>
<ellipse cx="335.80" cy="244.20" rx="2.98" ry="4.37" fill="none" stroke="#e8d040" stroke-width="0.8"/>
<ellipse cx="335.80" cy="244.20" rx="1.99" ry="2.92" fill="none" stroke="#78b848" stroke-width="0.8"/>
<ellipse cx="336.30" cy="244.20" rx="0.93" ry="2.14" fill="#fafae8" />
<ellipse cx="336.30" cy="245.20" rx="0.80" ry="1.10" fill="#4060c0" />
<ellipse cx="388.60" cy="247.90" rx="6.62" ry="10.22" fill="#2050c0" />
<ellipse cx="386.30" cy="247.00" rx="6.32" ry="10.02" fill="#a050c0" />
<ellipse cx="387.30" cy="247.40" rx="6.12" ry="9.72" fill="#dcec34" />
<ellipse cx="387.30" cy="247.40" rx="5.51" ry="8.75" fill="none" stroke="#86c83a" stroke-width="0.9"/>
<ellipse cx="387.30" cy="247.40" rx="4.53" ry="7.19" fill="none" stroke="#f2e22a" stroke-width="0.8"/>
<ellipse cx="387.30" cy="247.40" rx="3.67" ry="5.83" fill="none" stroke="#7cc43c" stroke-width="0.9"/>
<ellipse cx="387.30" cy="247.40" rx="2.75" ry="4.37" fill="none" stroke="#e8d040" stroke-width="0.8"/>
<ellipse cx="387.30" cy="247.40" rx="1.84" ry="2.92" fill="none" stroke="#78b848" stroke-width="0.8"/>
<ellipse cx="387.80" cy="247.40" rx="0.86" ry="2.14" fill="#fafae8" />
<ellipse cx="387.80" cy="248.40" rx="0.80" ry="1.10" fill="#4060c0" />
<ellipse cx="416.50" cy="243.60" rx="7.64" ry="10.22" fill="#f02020" />
<ellipse cx="414.20" cy="242.70" rx="7.34" ry="10.02" fill="#a050c0" />
<ellipse cx="415.20" cy="243.10" rx="7.14" ry="9.72" fill="#dcec34" />
<ellipse cx="415.20" cy="243.10" rx="6.43" ry="8.75" fill="none" stroke="#86c83a" stroke-width="0.9"/>
<ellipse cx="415.20" cy="243.10" rx="5.28" ry="7.19" fill="none" stroke="#f2e22a" stroke-width="0.8"/>
<ellipse cx="415.20" cy="243.10" rx="4.28" ry="5.83" fill="none" stroke="#7cc43c" stroke-width="0.9"/>
<ellipse cx="415.20" cy="243.10" rx="3.21" ry="4.37" fill="none" stroke="#e8d040" stroke-width="0.8"/>
<ellipse cx="415.20" cy="243.10" rx="2.14" ry="2.92" fill="none" stroke="#78b848" stroke-width="0.8"/>
<ellipse cx="415.70" cy="243.10" rx="1.00" ry="2.14" fill="#fafae8" />
<ellipse cx="415.70" cy="244.10" rx="0.80" ry="1.10" fill="#4060c0" />
<ellipse cx="470.10" cy="244.70" rx="7.13" ry="10.22" fill="#f02020" />
<ellipse cx="467.80" cy="243.80" rx="6.83" ry="10.02" fill="#a050c0" />
<ellipse cx="468.80" cy="244.20" rx="6.63" ry="9.72" fill="#dcec34" />
<ellipse cx="468.80" cy="244.20" rx="5.97" ry="8.75" fill="none" stroke="#86c83a" stroke-width="0.9"/>
<ellipse cx="468.80" cy="244.20" rx="4.91" ry="7.19" fill="none" stroke="#f2e22a" stroke-width="0.8"/>
<ellipse cx="468.80" cy="244.20" rx="3.98" ry="5.83" fill="none" stroke="#7cc43c" stroke-width="0.9"/>
<ellipse cx="468.80" cy="244.20" rx="2.98" ry="4.37" fill="none" stroke="#e8d040" stroke-width="0.8"/>
<ellipse cx="468.80" cy="244.20" rx="1.99" ry="2.92" fill="none" stroke="#78b848" stroke-width="0.8"/>
<ellipse cx="469.30" cy="244.20" rx="0.93" ry="2.14" fill="#fafae8" />
<ellipse cx="469.30" cy="245.20" rx="0.80" ry="1.10" fill="#4060c0" />
<ellipse cx="489.30" cy="245.80" rx="7.13" ry="10.22" fill="#f02020" />
<ellipse cx="487.00" cy="244.90" rx="6.83" ry="10.02" fill="#a050c0" />
<ellipse cx="488.00" cy="245.30" rx="6.63" ry="9.72" fill="#dcec34" />
<ellipse cx="488.00" cy="245.30" rx="5.97" ry="8.75" fill="none" stroke="#86c83a" stroke-width="0.9"/>
<ellipse cx="488.00" cy="245.30" rx="4.91" ry="7.19" fill="none" stroke="#f2e22a" stroke-width="0.8"/>
<ellipse cx="488.00" cy="245.30" rx="3.98" ry="5.83" fill="none" stroke="#7cc43c" stroke-width="0.9"/>
<ellipse cx="488.00" cy="245.30" rx="2.98" ry="4.37" fill="none" stroke="#e8d040" stroke-width="0.8"/>
<ellipse cx="488.00" cy="245.30" rx="1.99" ry="2.92" fill="none" stroke="#78b848" stroke-width="0.8"/>
<ellipse cx="488.50" cy="245.30" rx="0.93" ry="2.14" fill="#fafae8" />
<ellipse cx="488.50" cy="246.30" rx="0.80" ry="1.10" fill="#4060c0" />
<ellipse cx="499.00" cy="244.70" rx="6.62" ry="10.22" fill="#f02020" />
<ellipse cx="496.70" cy="243.80" rx="6.32" ry="10.02" fill="#a050c0" />
<ellipse cx="497.70" cy="244.20" rx="6.12" ry="9.72" fill="#dcec34" />
<ellipse cx="497.70" cy="244.20" rx="5.51" ry="8.75" fill="none" stroke="#86c83a" stroke-width="0.9"/>
<ellipse cx="497.70" cy="244.20" rx="4.53" ry="7.19" fill="none" stroke="#f2e22a" stroke-width="0.8"/>
<ellipse cx="497.70" cy="244.20" rx="3.67" ry="5.83" fill="none" stroke="#7cc43c" stroke-width="0.9"/>
<ellipse cx="497.70" cy="244.20" rx="2.75" ry="4.37" fill="none" stroke="#e8d040" stroke-width="0.8"/>
<ellipse cx="497.70" cy="244.20" rx="1.84" ry="2.92" fill="none" stroke="#78b848" stroke-width="0.8"/>
<ellipse cx="498.20" cy="244.20" rx="0.86" ry="2.14" fill="#fafae8" />
<ellipse cx="498.20" cy="245.20" rx="0.80" ry="1.10" fill="#4060c0" />
<ellipse cx="301.70" cy="277.30" rx="7.64" ry="11.30" fill="#9040b0" />
<ellipse cx="299.40" cy="276.40" rx="7.34" ry="11.10" fill="#2050c0" />
<ellipse cx="300.40" cy="276.80" rx="7.14" ry="10.80" fill="#dcec34" />
<ellipse cx="300.40" cy="276.80" rx="6.43" ry="9.72" fill="none" stroke="#86c83a" stroke-width="0.9"/>
<ellipse cx="300.40" cy="276.80" rx="5.28" ry="7.99" fill="none" stroke="#f2e22a" stroke-width="0.8"/>
<ellipse cx="300.40" cy="276.80" rx="4.28" ry="6.48" fill="none" stroke="#7cc43c" stroke-width="0.9"/>
<ellipse cx="300.40" cy="276.80" rx="3.21" ry="4.86" fill="none" stroke="#e8d040" stroke-width="0.8"/>
<ellipse cx="300.40" cy="276.80" rx="2.14" ry="3.24" fill="none" stroke="#78b848" stroke-width="0.8"/>
<ellipse cx="300.90" cy="276.80" rx="1.00" ry="2.38" fill="#fafae8" />
<ellipse cx="300.90" cy="277.80" rx="0.80" ry="1.10" fill="#4060c0" />
<ellipse cx="329.60" cy="266.60" rx="8.66" ry="11.30" fill="#f02020" />
<ellipse cx="327.30" cy="265.70" rx="8.36" ry="11.10" fill="#a050c0" />
<ellipse cx="328.30" cy="266.10" rx="8.16" ry="10.80" fill="#dcec34" />
<ellipse cx="328.30" cy="266.10" rx="7.34" ry="9.72" fill="none" stroke="#86c83a" stroke-width="0.9"/>
<ellipse cx="328.30" cy="266.10" rx="6.04" ry="7.99" fill="none" stroke="#f2e22a" stroke-width="0.8"/>
<ellipse cx="328.30" cy="266.10" rx="4.90" ry="6.48" fill="none" stroke="#7cc43c" stroke-width="0.9"/>
<ellipse cx="328.30" cy="266.10" rx="3.67" ry="4.86" fill="none" stroke="#e8d040" stroke-width="0.8"/>
<ellipse cx="328.30" cy="266.10" rx="2.45" ry="3.24" fill="none" stroke="#78b848" stroke-width="0.8"/>
<ellipse cx="328.80" cy="266.10" rx="1.14" ry="2.38" fill="#fafae8" />
<ellipse cx="328.80" cy="267.10" rx="0.80" ry="1.10" fill="#4060c0" />
<ellipse cx="345.70" cy="268.70" rx="7.64" ry="11.30" fill="#f02020" />
<ellipse cx="343.40" cy="267.80" rx="7.34" ry="11.10" fill="#a050c0" />
<ellipse cx="344.40" cy="268.20" rx="7.14" ry="10.80" fill="#dcec34" />
<ellipse cx="344.40" cy="268.20" rx="6.43" ry="9.72" fill="none" stroke="#86c83a" stroke-width="0.9"/>
<ellipse cx="344.40" cy="268.20" rx="5.28" ry="7.99" fill="none" stroke="#f2e22a" stroke-width="0.8"/>
<ellipse cx="344.40" cy="268.20" rx="4.28" ry="6.48" fill="none" stroke="#7cc43c" stroke-width="0.9"/>
<ellipse cx="344.40" cy="268.20" rx="3.21" ry="4.86" fill="none" stroke="#e8d040" stroke-width="0.8"/>
<ellipse cx="344.40" cy="268.20" rx="2.14" ry="3.24" fill="none" stroke="#78b848" stroke-width="0.8"/>
<ellipse cx="344.90" cy="268.20" rx="1.00" ry="2.38" fill="#fafae8" />
<ellipse cx="344.90" cy="269.20" rx="0.80" ry="1.10" fill="#4060c0" />
<ellipse cx="358.60" cy="285.90" rx="7.64" ry="10.76" fill="#f02020" />
<ellipse cx="356.30" cy="285.00" rx="7.34" ry="10.56" fill="#a050c0" />
<ellipse cx="357.30" cy="285.40" rx="7.14" ry="10.26" fill="#dcec34" />
<ellipse cx="357.30" cy="285.40" rx="6.43" ry="9.23" fill="none" stroke="#86c83a" stroke-width="0.9"/>
<ellipse cx="357.30" cy="285.40" rx="5.28" ry="7.59" fill="none" stroke="#f2e22a" stroke-width="0.8"/>
<ellipse cx="357.30" cy="285.40" rx="4.28" ry="6.16" fill="none" stroke="#7cc43c" stroke-width="0.9"/>
<ellipse cx="357.30" cy="285.40" rx="3.21" ry="4.62" fill="none" stroke="#e8d040" stroke-width="0.8"/>
<ellipse cx="357.30" cy="285.40" rx="2.14" ry="3.08" fill="none" stroke="#78b848" stroke-width="0.8"/>
<ellipse cx="357.80" cy="285.40" rx="1.00" ry="2.26" fill="#fafae8" />
<ellipse cx="357.80" cy="286.40" rx="0.80" ry="1.10" fill="#4060c0" />
<ellipse cx="374.30" cy="295.30" rx="7.23" ry="9.14" fill="#9040b0" />
<ellipse cx="372.00" cy="294.40" rx="6.93" ry="8.94" fill="#2050c0" />
<ellipse cx="373.00" cy="294.80" rx="6.73" ry="8.64" fill="#dcec34" />
<ellipse cx="373.00" cy="294.80" rx="6.06" ry="7.78" fill="none" stroke="#86c83a" stroke-width="0.9"/>
<ellipse cx="373.00" cy="294.80" rx="4.98" ry="6.39" fill="none" stroke="#f2e22a" stroke-width="0.8"/>
<ellipse cx="373.00" cy="294.80" rx="4.04" ry="5.18" fill="none" stroke="#7cc43c" stroke-width="0.9"/>
<ellipse cx="373.00" cy="294.80" rx="3.03" ry="3.89" fill="none" stroke="#e8d040" stroke-width="0.8"/>
<ellipse cx="373.00" cy="294.80" rx="2.02" ry="2.59" fill="none" stroke="#78b848" stroke-width="0.8"/>
<ellipse cx="373.50" cy="294.80" rx="0.94" ry="1.90" fill="#fafae8" />
<ellipse cx="373.50" cy="295.80" rx="0.80" ry="1.10" fill="#4060c0" />
<ellipse cx="323.80" cy="322.00" rx="8.15" ry="7.84" fill="#30b040" />
<ellipse cx="321.50" cy="321.10" rx="7.85" ry="7.64" fill="#a050c0" />
<ellipse cx="322.50" cy="321.50" rx="7.65" ry="7.34" fill="#dcec34" />
<ellipse cx="322.50" cy="321.50" rx="6.89" ry="6.61" fill="none" stroke="#86c83a" stroke-width="0.9"/>
<ellipse cx="322.50" cy="321.50" rx="5.66" ry="5.43" fill="none" stroke="#f2e22a" stroke-width="0.8"/>
<ellipse cx="322.50" cy="321.50" rx="4.59" ry="4.41" fill="none" stroke="#7cc43c" stroke-width="0.9"/>
<ellipse cx="322.50" cy="321.50" rx="3.44" ry="3.30" fill="none" stroke="#e8d040" stroke-width="0.8"/>
<ellipse cx="322.50" cy="321.50" rx="2.29" ry="2.20" fill="none" stroke="#78b848" stroke-width="0.8"/>
<ellipse cx="323.00" cy="321.50" rx="1.07" ry="1.62" fill="#fafae8" />
<ellipse cx="323.00" cy="322.50" rx="0.80" ry="1.10" fill="#4060c0" />
<ellipse cx="337.30" cy="322.00" rx="8.15" ry="7.84" fill="#f02020" />
<ellipse cx="335.00" cy="321.10" rx="7.85" ry="7.64" fill="#a050c0" />
<ellipse cx="336.00" cy="321.50" rx="7.65" ry="7.34" fill="#dcec34" />
<ellipse cx="336.00" cy="321.50" rx="6.89" ry="6.61" fill="none" stroke="#86c83a" stroke-width="0.9"/>
<ellipse cx="336.00" cy="321.50" rx="5.66" ry="5.43" fill="none" stroke="#f2e22a" stroke-width="0.8"/>
<ellipse cx="336.00" cy="321.50" rx="4.59" ry="4.41" fill="none" stroke="#7cc43c" stroke-width="0.9"/>
<ellipse cx="336.00" cy="321.50" rx="3.44" ry="3.30" fill="none" stroke="#e8d040" stroke-width="0.8"/>
<ellipse cx="336.00" cy="321.50" rx="2.29" ry="2.20" fill="none" stroke="#78b848" stroke-width="0.8"/>
<ellipse cx="336.50" cy="321.50" rx="1.07" ry="1.62" fill="#fafae8" />
<ellipse cx="336.50" cy="322.50" rx="0.80" ry="1.10" fill="#4060c0" />
<ellipse cx="355.30" cy="315.90" rx="8.15" ry="12.60" fill="#f02020" />
<ellipse cx="353.00" cy="315.00" rx="7.85" ry="12.40" fill="#a050c0" />
<ellipse cx="354.00" cy="315.40" rx="7.65" ry="12.10" fill="#dcec34" />
<ellipse cx="354.00" cy="315.40" rx="6.89" ry="10.89" fill="none" stroke="#86c83a" stroke-width="0.9"/>
<ellipse cx="354.00" cy="315.40" rx="5.66" ry="8.95" fill="none" stroke="#f2e22a" stroke-width="0.8"/>
<ellipse cx="354.00" cy="315.40" rx="4.59" ry="7.26" fill="none" stroke="#7cc43c" stroke-width="0.9"/>
<ellipse cx="354.00" cy="315.40" rx="3.44" ry="5.44" fill="none" stroke="#e8d040" stroke-width="0.8"/>
<ellipse cx="354.00" cy="315.40" rx="2.29" ry="3.63" fill="none" stroke="#78b848" stroke-width="0.8"/>
<ellipse cx="354.50" cy="315.40" rx="1.07" ry="2.66" fill="#fafae8" />
<ellipse cx="354.50" cy="316.40" rx="0.80" ry="1.10" fill="#4060c0" />
<ellipse cx="296.80" cy="323.50" rx="3.56" ry="5.90" fill="#30b040" />
<ellipse cx="294.50" cy="322.60" rx="3.26" ry="5.70" fill="#a050c0" />
<ellipse cx="295.50" cy="323.00" rx="3.06" ry="5.40" fill="#dcec34" />
<ellipse cx="295.50" cy="323.00" rx="2.75" ry="4.86" fill="none" stroke="#86c83a" stroke-width="0.9"/>
<ellipse cx="295.50" cy="323.00" rx="2.26" ry="4.00" fill="none" stroke="#f2e22a" stroke-width="0.8"/>
<ellipse cx="295.50" cy="323.00" rx="1.84" ry="3.24" fill="none" stroke="#7cc43c" stroke-width="0.9"/>
<ellipse cx="295.50" cy="323.00" rx="1.38" ry="2.43" fill="none" stroke="#e8d040" stroke-width="0.8"/>
<ellipse cx="295.50" cy="323.00" rx="0.92" ry="1.62" fill="none" stroke="#78b848" stroke-width="0.8"/>
<ellipse cx="296.00" cy="323.00" rx="0.43" ry="1.19" fill="#fafae8" />
<ellipse cx="296.00" cy="324.00" rx="0.80" ry="1.10" fill="#4060c0" />
<ellipse cx="449.70" cy="270.90" rx="9.68" ry="10.22" fill="#f02020" />
<ellipse cx="447.40" cy="270.00" rx="9.38" ry="10.02" fill="#a050c0" />
<ellipse cx="448.40" cy="270.40" rx="9.18" ry="9.72" fill="#dcec34" />
<ellipse cx="448.40" cy="270.40" rx="8.26" ry="8.75" fill="none" stroke="#86c83a" stroke-width="0.9"/>
<ellipse cx="448.40" cy="270.40" rx="6.79" ry="7.19" fill="none" stroke="#f2e22a" stroke-width="0.8"/>
<ellipse cx="448.40" cy="270.40" rx="5.51" ry="5.83" fill="none" stroke="#7cc43c" stroke-width="0.9"/>
<ellipse cx="448.40" cy="270.40" rx="4.13" ry="4.37" fill="none" stroke="#e8d040" stroke-width="0.8"/>
<ellipse cx="448.40" cy="270.40" rx="2.75" ry="2.92" fill="none" stroke="#78b848" stroke-width="0.8"/>
<ellipse cx="448.90" cy="270.40" rx="1.29" ry="2.14" fill="#fafae8" />
<ellipse cx="448.90" cy="271.40" rx="0.80" ry="1.10" fill="#4060c0" />
<ellipse cx="469.00" cy="265.50" rx="7.13" ry="11.30" fill="#2050c0" />
<ellipse cx="466.70" cy="264.60" rx="6.83" ry="11.10" fill="#a050c0" />
<ellipse cx="467.70" cy="265.00" rx="6.63" ry="10.80" fill="#dcec34" />
<ellipse cx="467.70" cy="265.00" rx="5.97" ry="9.72" fill="none" stroke="#86c83a" stroke-width="0.9"/>
<ellipse cx="467.70" cy="265.00" rx="4.91" ry="7.99" fill="none" stroke="#f2e22a" stroke-width="0.8"/>
<ellipse cx="467.70" cy="265.00" rx="3.98" ry="6.48" fill="none" stroke="#7cc43c" stroke-width="0.9"/>
<ellipse cx="467.70" cy="265.00" rx="2.98" ry="4.86" fill="none" stroke="#e8d040" stroke-width="0.8"/>
<ellipse cx="467.70" cy="265.00" rx="1.99" ry="3.24" fill="none" stroke="#78b848" stroke-width="0.8"/>
<ellipse cx="468.20" cy="265.00" rx="0.93" ry="2.38" fill="#fafae8" />
<ellipse cx="468.20" cy="266.00" rx="0.80" ry="1.10" fill="#4060c0" />
<ellipse cx="434.70" cy="291.20" rx="7.13" ry="10.76" fill="#f02020" />
<ellipse cx="432.40" cy="290.30" rx="6.83" ry="10.56" fill="#a050c0" />
<ellipse cx="433.40" cy="290.70" rx="6.63" ry="10.26" fill="#dcec34" />
<ellipse cx="433.40" cy="290.70" rx="5.97" ry="9.23" fill="none" stroke="#86c83a" stroke-width="0.9"/>
<ellipse cx="433.40" cy="290.70" rx="4.91" ry="7.59" fill="none" stroke="#f2e22a" stroke-width="0.8"/>
<ellipse cx="433.40" cy="290.70" rx="3.98" ry="6.16" fill="none" stroke="#7cc43c" stroke-width="0.9"/>
<ellipse cx="433.40" cy="290.70" rx="2.98" ry="4.62" fill="none" stroke="#e8d040" stroke-width="0.8"/>
<ellipse cx="433.40" cy="290.70" rx="1.99" ry="3.08" fill="none" stroke="#78b848" stroke-width="0.8"/>
<ellipse cx="433.90" cy="290.70" rx="0.93" ry="2.26" fill="#fafae8" />
<ellipse cx="433.90" cy="291.70" rx="0.80" ry="1.10" fill="#4060c0" />
<ellipse cx="493.60" cy="281.60" rx="7.64" ry="10.22" fill="#f02020" />
<ellipse cx="491.30" cy="280.70" rx="7.34" ry="10.02" fill="#a050c0" />
<ellipse cx="492.30" cy="281.10" rx="7.14" ry="9.72" fill="#dcec34" />
<ellipse cx="492.30" cy="281.10" rx="6.43" ry="8.75" fill="none" stroke="#86c83a" stroke-width="0.9"/>
<ellipse cx="492.30" cy="281.10" rx="5.28" ry="7.19" fill="none" stroke="#f2e22a" stroke-width="0.8"/>
<ellipse cx="492.30" cy="281.10" rx="4.28" ry="5.83" fill="none" stroke="#7cc43c" stroke-width="0.9"/>
<ellipse cx="492.30" cy="281.10" rx="3.21" ry="4.37" fill="none" stroke="#e8d040" stroke-width="0.8"/>
<ellipse cx="492.30" cy="281.10" rx="2.14" ry="2.92" fill="none" stroke="#78b848" stroke-width="0.8"/>
<ellipse cx="492.80" cy="281.10" rx="1.00" ry="2.14" fill="#fafae8" />
<ellipse cx="492.80" cy="282.10" rx="0.80" ry="1.10" fill="#4060c0" />
<ellipse cx="304.5" cy="328.5" rx="5.00" ry="4.00" fill="none" stroke="#f02020" stroke-width="1.1"/>
<ellipse cx="304.5" cy="328.5" rx="3.90" ry="3.12" fill="none" stroke="#f02020" stroke-width="0.8"/>
<ellipse cx="304.5" cy="328.5" rx="2.80" ry="2.24" fill="none" stroke="#f02020" stroke-width="0.8"/>
<ellipse cx="304.5" cy="328.5" rx="1.70" ry="1.36" fill="none" stroke="#f02020" stroke-width="0.8"/>
<ellipse cx="415.8" cy="261.6" rx="6.00" ry="8.00" fill="none" stroke="#e8e040" stroke-width="1.1"/>
<ellipse cx="415.8" cy="261.6" rx="4.68" ry="6.24" fill="none" stroke="#e8e040" stroke-width="0.8"/>
<ellipse cx="415.8" cy="261.6" rx="3.36" ry="4.48" fill="none" stroke="#e8e040" stroke-width="0.8"/>
<ellipse cx="415.8" cy="261.6" rx="2.04" ry="2.72" fill="none" stroke="#e8e040" stroke-width="0.8"/>
<ellipse cx="430.5" cy="260.5" rx="5.50" ry="7.50" fill="none" stroke="#30b040" stroke-width="1.1"/>
<ellipse cx="430.5" cy="260.5" rx="4.29" ry="5.85" fill="none" stroke="#30b040" stroke-width="0.8"/>
<ellipse cx="430.5" cy="260.5" rx="3.08" ry="4.20" fill="none" stroke="#30b040" stroke-width="0.8"/>
<ellipse cx="430.5" cy="260.5" rx="1.87" ry="2.55" fill="none" stroke="#30b040" stroke-width="0.8"/>
<ellipse cx="441" cy="257.4" rx="5.50" ry="7.50" fill="none" stroke="#9040b0" stroke-width="1.1"/>
<ellipse cx="441" cy="257.4" rx="4.29" ry="5.85" fill="none" stroke="#9040b0" stroke-width="0.8"/>
<ellipse cx="441" cy="257.4" rx="3.08" ry="4.20" fill="none" stroke="#9040b0" stroke-width="0.8"/>
<ellipse cx="441" cy="257.4" rx="1.87" ry="2.55" fill="none" stroke="#9040b0" stroke-width="0.8"/>
<ellipse cx="450.5" cy="254.2" rx="5.50" ry="8.00" fill="none" stroke="#2050c0" stroke-width="1.1"/>
<ellipse cx="450.5" cy="254.2" rx="4.29" ry="6.24" fill="none" stroke="#2050c0" stroke-width="0.8"/>
<ellipse cx="450.5" cy="254.2" rx="3.08" ry="4.48" fill="none" stroke="#2050c0" stroke-width="0.8"/>
<ellipse cx="450.5" cy="254.2" rx="1.87" ry="2.72" fill="none" stroke="#2050c0" stroke-width="0.8"/>
<ellipse cx="460" cy="253.2" rx="5.00" ry="8.00" fill="none" stroke="#f02020" stroke-width="1.1"/>
<ellipse cx="460" cy="253.2" rx="3.90" ry="6.24" fill="none" stroke="#f02020" stroke-width="0.8"/>
<ellipse cx="460" cy="253.2" rx="2.80" ry="4.48" fill="none" stroke="#f02020" stroke-width="0.8"/>
<ellipse cx="460" cy="253.2" rx="1.70" ry="2.72" fill="none" stroke="#f02020" stroke-width="0.8"/>
<ellipse cx="318.7" cy="265" rx="4.00" ry="7.00" fill="none" stroke="#30b040" stroke-width="1.1"/>
<ellipse cx="318.7" cy="265" rx="3.12" ry="5.46" fill="none" stroke="#30b040" stroke-width="0.8"/>
<ellipse cx="318.7" cy="265" rx="2.24" ry="3.92" fill="none" stroke="#30b040" stroke-width="0.8"/>
<ellipse cx="318.7" cy="265" rx="1.36" ry="2.38" fill="none" stroke="#30b040" stroke-width="0.8"/>
</g>
<line x1="291.80" y1="190.41" x2="293.80" y2="190.41" stroke="#111" stroke-width="1"/>
<line x1="291.80" y1="198.70" x2="293.80" y2="198.70" stroke="#111" stroke-width="1"/>
<line x1="291.80" y1="206.99" x2="293.80" y2="206.99" stroke="#111" stroke-width="1"/>
<line x1="291.80" y1="215.28" x2="293.80" y2="215.28" stroke="#111" stroke-width="1"/>
<line x1="291.80" y1="223.57" x2="293.80" y2="223.57" stroke="#111" stroke-width="1"/>
<line x1="291.80" y1="231.86" x2="293.80" y2="231.86" stroke="#111" stroke-width="1"/>
<line x1="291.80" y1="240.15" x2="293.80" y2="240.15" stroke="#111" stroke-width="1"/>
<line x1="291.80" y1="248.44" x2="293.80" y2="248.44" stroke="#111" stroke-width="1"/>
<line x1="291.80" y1="256.73" x2="293.80" y2="256.73" stroke="#111" stroke-width="1"/>
<line x1="291.80" y1="265.02" x2="293.80" y2="265.02" stroke="#111" stroke-width="1"/>
<line x1="291.80" y1="273.31" x2="293.80" y2="273.31" stroke="#111" stroke-width="1"/>
<line x1="291.80" y1="281.60" x2="293.80" y2="281.60" stroke="#111" stroke-width="1"/>
<line x1="291.80" y1="289.89" x2="293.80" y2="289.89" stroke="#111" stroke-width="1"/>
<line x1="291.80" y1="298.18" x2="293.80" y2="298.18" stroke="#111" stroke-width="1"/>
<line x1="291.80" y1="306.47" x2="293.80" y2="306.47" stroke="#111" stroke-width="1"/>
<line x1="291.80" y1="314.76" x2="293.80" y2="314.76" stroke="#111" stroke-width="1"/>
<line x1="291.80" y1="323.05" x2="293.80" y2="323.05" stroke="#111" stroke-width="1"/>
<line x1="300.30" y1="328.50" x2="300.30" y2="330.30" stroke="#111" stroke-width="1"/>
<line x1="317.18" y1="328.50" x2="317.18" y2="330.30" stroke="#111" stroke-width="1"/>
<line x1="334.06" y1="328.50" x2="334.06" y2="330.30" stroke="#111" stroke-width="1"/>
<line x1="350.94" y1="328.50" x2="350.94" y2="330.30" stroke="#111" stroke-width="1"/>
<line x1="367.82" y1="328.50" x2="367.82" y2="330.30" stroke="#111" stroke-width="1"/>
<line x1="384.70" y1="328.50" x2="384.70" y2="330.30" stroke="#111" stroke-width="1"/>
<line x1="401.58" y1="328.50" x2="401.58" y2="330.30" stroke="#111" stroke-width="1"/>
<line x1="418.46" y1="328.50" x2="418.46" y2="330.30" stroke="#111" stroke-width="1"/>
<line x1="435.34" y1="328.50" x2="435.34" y2="330.30" stroke="#111" stroke-width="1"/>
<line x1="452.22" y1="328.50" x2="452.22" y2="330.30" stroke="#111" stroke-width="1"/>
<line x1="469.10" y1="328.50" x2="469.10" y2="330.30" stroke="#111" stroke-width="1"/>
<line x1="485.98" y1="328.50" x2="485.98" y2="330.30" stroke="#111" stroke-width="1"/>
<line x1="502.86" y1="328.50" x2="502.86" y2="330.30" stroke="#111" stroke-width="1"/>
<rect x="293.80" y="182.00" width="214.30" height="146.50" fill="none" stroke="#111" stroke-width="1.5"/>
<text x="300.30" y="340.20" font-size="10" text-anchor="middle" font-weight="normal" fill="#333" >8.0</text>
<text x="383.60" y="340.20" font-size="10" text-anchor="middle" font-weight="normal" fill="#333" >7.5</text>
<text x="468.00" y="340.20" font-size="10" text-anchor="middle" font-weight="normal" fill="#333" >7.0</text>
<text x="289.30" y="202.00" font-size="10" text-anchor="end" font-weight="normal" fill="#333" >105</text>
<text x="289.30" y="242.90" font-size="10" text-anchor="end" font-weight="normal" fill="#333" >110</text>
<text x="289.30" y="284.70" font-size="10" text-anchor="end" font-weight="normal" fill="#333" >115</text>
<text x="289.30" y="326.60" font-size="10" text-anchor="end" font-weight="normal" fill="#333" >120</text>
<text x="390.60" y="346.00" font-size="4.6" fill="#333">1</text>
<text x="393.00" y="352.10" font-size="10" fill="#333">H</text>
<text x="405.70" y="352.10" font-size="10" fill="#333">(ppm)</text>
<text transform="translate(269.10,270.40) rotate(-90)" font-size="6" fill="#333" dy="-4">15</text>
<text transform="translate(269.10,265.60) rotate(-90)" font-size="10" fill="#333">N</text>
<text transform="translate(269.10,251.50) rotate(-90)" font-size="10" fill="#333">(ppm)</text>
<text x="455.7" y="191.1" font-size="8" font-weight="bold" fill="#222" textLength="44" lengthAdjust="spacingAndGlyphs">PI2A : PDZ2</text>
<ellipse cx="467.70" cy="195.60" rx="3.20" ry="3.20" fill="#ff1010" />
<text x="477.1" y="197.9" font-size="8.2" fill="#222" textLength="3.2" lengthAdjust="spacingAndGlyphs">0</text>
<ellipse cx="467.70" cy="204.00" rx="3.20" ry="3.20" fill="#2050c0" />
<text x="477.1" y="206.9" font-size="8.2" fill="#222" textLength="9.1" lengthAdjust="spacingAndGlyphs">2.0</text>
<ellipse cx="467.70" cy="211.40" rx="3.20" ry="3.20" fill="#9040b0" />
<text x="477.1" y="214.3" font-size="8.2" fill="#222" textLength="9.1" lengthAdjust="spacingAndGlyphs">4.0</text>
<ellipse cx="467.70" cy="221.00" rx="3.20" ry="3.20" fill="#20b030" />
<text x="477.1" y="223.6" font-size="8.2" fill="#222" textLength="9.1" lengthAdjust="spacingAndGlyphs">8.0</text>
<ellipse cx="467.70" cy="229.50" rx="3.20" ry="3.20" fill="#f2e81e" />
<text x="477.1" y="231.8" font-size="8.2" fill="#222" textLength="12.5" lengthAdjust="spacingAndGlyphs">16.0</text>
<text x="428.00" y="231.30" font-size="12" text-anchor="middle" font-weight="bold" fill="#111" >B</text>
<text x="455.90" y="243.10" font-size="12" text-anchor="middle" font-weight="bold" fill="#111" >A</text>
<text x="500.50" y="302.50" font-size="12" text-anchor="middle" font-weight="bold" fill="#111" >C</text>
<line x1="421.60" y1="230.20" x2="413.18" y2="231.57" stroke="#f01818" stroke-width="1.5"/>
<polygon points="404.40,233.00 414.98,226.41 413.18,231.57 416.52,235.89" fill="#f01818"/>
<line x1="458.00" y1="261.80" x2="417.16" y2="275.14" stroke="#f01818" stroke-width="1.5"/>
<polygon points="408.70,277.90 418.14,269.77 417.16,275.14 421.12,278.89" fill="#f01818"/>
<line x1="500.90" y1="288.60" x2="491.95" y2="292.53" stroke="#f01818" stroke-width="1.5"/>
<polygon points="483.80,296.10 492.40,287.09 491.95,292.53 496.26,295.88" fill="#f01818"/>
<text x="8.00" y="370.60" font-size="11.5" text-anchor="start" font-weight="bold" fill="#111" >E</text>
<line x1="40.70" y1="369.60" x2="40.70" y2="514.10" stroke="#111" stroke-width="1.3"/>
<line x1="40.70" y1="514.10" x2="243.00" y2="514.10" stroke="#111" stroke-width="1.3"/>
<line x1="37.70" y1="380.60" x2="40.70" y2="380.60" stroke="#111" stroke-width="1.1"/>
<text x="37.20" y="384.80" font-size="11.8" text-anchor="end" font-weight="normal" fill="#222" >0.2</text>
<line x1="37.70" y1="442.60" x2="40.70" y2="442.60" stroke="#111" stroke-width="1.1"/>
<text x="37.20" y="446.80" font-size="11.8" text-anchor="end" font-weight="normal" fill="#222" >0.1</text>
<line x1="37.70" y1="504.40" x2="40.70" y2="504.40" stroke="#111" stroke-width="1.1"/>
<text x="37.20" y="508.60" font-size="11.8" text-anchor="end" font-weight="normal" fill="#222" >0.0</text>
<line x1="38.70" y1="411.60" x2="40.70" y2="411.60" stroke="#111" stroke-width="1.0"/>
<line x1="38.70" y1="473.50" x2="40.70" y2="473.50" stroke="#111" stroke-width="1.0"/>
<line x1="54.40" y1="514.10" x2="54.40" y2="517.10" stroke="#111" stroke-width="1.0"/>
<line x1="76.17" y1="514.10" x2="76.17" y2="516.10" stroke="#111" stroke-width="1.0"/>
<line x1="97.94" y1="514.10" x2="97.94" y2="517.10" stroke="#111" stroke-width="1.0"/>
<line x1="119.71" y1="514.10" x2="119.71" y2="516.10" stroke="#111" stroke-width="1.0"/>
<line x1="141.48" y1="514.10" x2="141.48" y2="517.10" stroke="#111" stroke-width="1.0"/>
<line x1="163.25" y1="514.10" x2="163.25" y2="516.10" stroke="#111" stroke-width="1.0"/>
<line x1="185.02" y1="514.10" x2="185.02" y2="517.10" stroke="#111" stroke-width="1.0"/>
<line x1="206.79" y1="514.10" x2="206.79" y2="516.10" stroke="#111" stroke-width="1.0"/>
<line x1="228.56" y1="514.10" x2="228.56" y2="517.10" stroke="#111" stroke-width="1.0"/>
<text x="54.40" y="528.40" font-size="11.6" text-anchor="middle" font-weight="normal" fill="#222" >0</text>
<text x="97.94" y="528.40" font-size="11.6" text-anchor="middle" font-weight="normal" fill="#222" >2</text>
<text x="141.48" y="528.40" font-size="11.6" text-anchor="middle" font-weight="normal" fill="#222" >4</text>
<text x="185.02" y="528.40" font-size="11.6" text-anchor="middle" font-weight="normal" fill="#222" >6</text>
<text x="228.56" y="528.40" font-size="11.6" text-anchor="middle" font-weight="normal" fill="#222" >8</text>
<text x="158.20" y="542.30" font-size="11.9" text-anchor="middle" font-weight="normal" fill="#222" >[PI1A]/[PDZ1]</text>
<text transform="translate(13.9,440.3) rotate(-90)" font-size="11.9" text-anchor="middle" fill="#222">chemical shift changes</text>
<text x="50.8" y="378.2" font-size="12" fill="#222">K<tspan font-size="7.5" dy="2.5">d</tspan><tspan dy="-2.5"> = 0.11 ± 0.02 mM</tspan></text>
<polyline points="54.40,504.10 54.64,503.41 55.09,502.15 55.66,500.56 56.35,498.71 57.12,496.67 57.98,494.47 58.91,492.15 59.91,489.73 60.97,487.23 62.10,484.69 63.28,482.11 64.52,479.50 65.81,476.88 67.15,474.27 68.54,471.66 69.98,469.07 71.46,466.50 72.99,463.96 74.56,461.45 76.17,458.98 77.82,456.54 79.52,454.16 81.25,451.81 83.02,449.51 84.82,447.26 86.67,445.06 88.55,442.91 90.46,440.80 92.41,438.74 94.39,436.74 96.41,434.78 98.46,432.87 100.54,431.00 102.65,429.19 104.80,427.42 106.97,425.69 109.18,424.01 111.41,422.37 113.68,420.78 115.97,419.22 118.30,417.71 120.65,416.24 123.03,414.80 125.44,413.40 127.87,412.04 130.34,410.71 132.83,409.42 135.34,408.16 137.88,406.94 140.45,405.74 143.05,404.58 145.67,403.44 148.31,402.34 150.98,401.26 153.68,400.21 156.40,399.19 159.14,398.19 161.91,397.22 164.70,396.27 167.52,395.35 170.36,394.44 173.22,393.56 176.11,392.70 179.02,391.87 181.95,391.05 184.91,390.25 187.88,389.47 190.88,388.71 193.90,387.96 196.95,387.24 200.01,386.53 203.10,385.84 206.21,385.16 209.34,384.50 212.49,383.85 215.66,383.22 218.86,382.60 222.07,382.00 225.30,381.40 228.56,380.83" fill="none" stroke="#f01c1c" stroke-width="1.5"/>
<polyline points="54.40,504.10 54.64,503.47 55.09,502.33 55.66,500.88 56.35,499.21 57.12,497.36 57.98,495.38 58.91,493.30 59.91,491.14 60.97,488.92 62.10,486.67 63.28,484.39 64.52,482.11 65.81,479.82 67.15,477.54 68.54,475.28 69.98,473.05 71.46,470.84 72.99,468.67 74.56,466.53 76.17,464.43 77.82,462.38 79.52,460.37 81.25,458.40 83.02,456.48 84.82,454.61 86.67,452.78 88.55,451.00 90.46,449.27 92.41,447.58 94.39,445.94 96.41,444.34 98.46,442.78 100.54,441.27 102.65,439.81 104.80,438.38 106.97,436.99 109.18,435.64 111.41,434.33 113.68,433.06 115.97,431.83 118.30,430.63 120.65,429.46 123.03,428.32 125.44,427.22 127.87,426.15 130.34,425.11 132.83,424.10 135.34,423.12 137.88,422.16 140.45,421.23 143.05,420.32 145.67,419.44 148.31,418.59 150.98,417.76 153.68,416.95 156.40,416.16 159.14,415.39 161.91,414.64 164.70,413.92 167.52,413.21 170.36,412.52 173.22,411.84 176.11,411.19 179.02,410.55 181.95,409.93 184.91,409.32 187.88,408.73 190.88,408.15 193.90,407.59 196.95,407.04 200.01,406.51 203.10,405.98 206.21,405.47 209.34,404.97 212.49,404.49 215.66,404.01 218.86,403.55 222.07,403.09 225.30,402.65 228.56,402.22" fill="none" stroke="#f01c1c" stroke-width="1.5"/>
<polyline points="54.40,504.10 54.64,503.53 55.09,502.51 55.66,501.21 56.35,499.72 57.12,498.08 57.98,496.34 58.91,494.51 59.91,492.63 60.97,490.71 62.10,488.77 63.28,486.82 64.52,484.87 65.81,482.94 67.15,481.03 68.54,479.14 69.98,477.28 71.46,475.46 72.99,473.68 74.56,471.94 76.17,470.24 77.82,468.58 79.52,466.97 81.25,465.40 83.02,463.87 84.82,462.39 86.67,460.96 88.55,459.57 90.46,458.21 92.41,456.91 94.39,455.64 96.41,454.41 98.46,453.22 100.54,452.07 102.65,450.95 104.80,449.87 106.97,448.83 109.18,447.82 111.41,446.84 113.68,445.89 115.97,444.97 118.30,444.08 120.65,443.21 123.03,442.38 125.44,441.57 127.87,440.78 130.34,440.02 132.83,439.28 135.34,438.57 137.88,437.87 140.45,437.20 143.05,436.55 145.67,435.91 148.31,435.30 150.98,434.70 153.68,434.12 156.40,433.56 159.14,433.01 161.91,432.48 164.70,431.96 167.52,431.46 170.36,430.97 173.22,430.50 176.11,430.03 179.02,429.58 181.95,429.15 184.91,428.72 187.88,428.31 190.88,427.90 193.90,427.51 196.95,427.12 200.01,426.75 203.10,426.39 206.21,426.03 209.34,425.68 212.49,425.35 215.66,425.02 218.86,424.70 222.07,424.38 225.30,424.08 228.56,423.78" fill="none" stroke="#f01c1c" stroke-width="1.5"/>
<polyline points="54.40,504.10 54.64,503.83 55.09,503.34 55.66,502.72 56.35,502.00 57.12,501.20 57.98,500.35 58.91,499.46 59.91,498.53 60.97,497.59 62.10,496.62 63.28,495.65 64.52,494.67 65.81,493.69 67.15,492.72 68.54,491.75 69.98,490.80 71.46,489.86 72.99,488.93 74.56,488.02 76.17,487.13 77.82,486.25 79.52,485.40 81.25,484.56 83.02,483.75 84.82,482.95 86.67,482.18 88.55,481.42 90.46,480.69 92.41,479.97 94.39,479.27 96.41,478.60 98.46,477.94 100.54,477.30 102.65,476.68 104.80,476.08 106.97,475.49 109.18,474.92 111.41,474.37 113.68,473.83 115.97,473.31 118.30,472.80 120.65,472.31 123.03,471.83 125.44,471.37 127.87,470.92 130.34,470.48 132.83,470.05 135.34,469.64 137.88,469.24 140.45,468.85 143.05,468.47 145.67,468.10 148.31,467.74 150.98,467.39 153.68,467.04 156.40,466.71 159.14,466.39 161.91,466.08 164.70,465.77 167.52,465.47 170.36,465.18 173.22,464.90 176.11,464.63 179.02,464.36 181.95,464.10 184.91,463.84 187.88,463.60 190.88,463.35 193.90,463.12 196.95,462.89 200.01,462.66 203.10,462.44 206.21,462.23 209.34,462.02 212.49,461.82 215.66,461.62 218.86,461.42 222.07,461.23 225.30,461.05 228.56,460.87" fill="none" stroke="#f01c1c" stroke-width="1.5"/>
<polyline points="54.40,504.10 54.64,503.96 55.09,503.70 55.66,503.38 56.35,503.01 57.12,502.60 57.98,502.16 58.91,501.70 59.91,501.23 60.97,500.74 62.10,500.25 63.28,499.75 64.52,499.25 65.81,498.75 67.15,498.26 68.54,497.77 69.98,497.28 71.46,496.81 72.99,496.34 74.56,495.88 76.17,495.43 77.82,494.99 79.52,494.56 81.25,494.14 83.02,493.73 84.82,493.34 86.67,492.95 88.55,492.57 90.46,492.21 92.41,491.85 94.39,491.51 96.41,491.17 98.46,490.85 100.54,490.53 102.65,490.22 104.80,489.93 106.97,489.64 109.18,489.36 111.41,489.08 113.68,488.82 115.97,488.56 118.30,488.32 120.65,488.07 123.03,487.84 125.44,487.61 127.87,487.39 130.34,487.18 132.83,486.97 135.34,486.77 137.88,486.57 140.45,486.38 143.05,486.20 145.67,486.02 148.31,485.84 150.98,485.67 153.68,485.51 156.40,485.35 159.14,485.19 161.91,485.04 164.70,484.89 167.52,484.75 170.36,484.61 173.22,484.47 176.11,484.34 179.02,484.21 181.95,484.08 184.91,483.96 187.88,483.84 190.88,483.72 193.90,483.61 196.95,483.50 200.01,483.39 203.10,483.28 206.21,483.18 209.34,483.08 212.49,482.98 215.66,482.89 218.86,482.79 222.07,482.70 225.30,482.61 228.56,482.53" fill="none" stroke="#f01c1c" stroke-width="1.5"/>
<polyline points="54.40,504.10 54.64,503.97 55.09,503.73 55.66,503.42 56.35,503.07 57.12,502.68 57.98,502.27 58.91,501.83 59.91,501.37 60.97,500.90 62.10,500.43 63.28,499.95 64.52,499.46 65.81,498.97 67.15,498.49 68.54,498.01 69.98,497.53 71.46,497.06 72.99,496.60 74.56,496.14 76.17,495.69 77.82,495.25 79.52,494.82 81.25,494.39 83.02,493.98 84.82,493.57 86.67,493.18 88.55,492.80 90.46,492.42 92.41,492.06 94.39,491.70 96.41,491.35 98.46,491.02 100.54,490.69 102.65,490.37 104.80,490.06 106.97,489.76 109.18,489.46 111.41,489.18 113.68,488.90 115.97,488.63 118.30,488.37 120.65,488.11 123.03,487.86 125.44,487.62 127.87,487.39 130.34,487.16 132.83,486.94 135.34,486.72 137.88,486.51 140.45,486.30 143.05,486.11 145.67,485.91 148.31,485.72 150.98,485.54 153.68,485.36 156.40,485.19 159.14,485.02 161.91,484.85 164.70,484.69 167.52,484.54 170.36,484.38 173.22,484.23 176.11,484.09 179.02,483.95 181.95,483.81 184.91,483.68 187.88,483.55 190.88,483.42 193.90,483.29 196.95,483.17 200.01,483.05 203.10,482.94 206.21,482.82 209.34,482.71 212.49,482.60 215.66,482.50 218.86,482.40 222.07,482.29 225.30,482.20 228.56,482.10" fill="none" stroke="#f01c1c" stroke-width="1.5"/>
<rect x="226.61" y="389.25" width="3.90" height="3.90" fill="#111111"/>
<rect x="139.53" y="382.05" width="3.90" height="3.90" fill="#111111"/>
<rect x="95.99" y="432.55" width="3.90" height="3.90" fill="#111111"/>
<rect x="74.22" y="469.45" width="3.90" height="3.90" fill="#111111"/>
<rect x="63.33" y="490.25" width="3.90" height="3.90" fill="#111111"/>
<rect x="226.61" y="404.45" width="3.90" height="3.90" fill="#f42020"/>
<rect x="139.53" y="412.05" width="3.90" height="3.90" fill="#f42020"/>
<rect x="95.99" y="446.25" width="3.90" height="3.90" fill="#f42020"/>
<rect x="74.22" y="466.55" width="3.90" height="3.90" fill="#f42020"/>
<rect x="63.33" y="474.45" width="3.90" height="3.90" fill="#f42020"/>
<rect x="226.61" y="483.05" width="3.90" height="3.90" fill="#1818e8"/>
<rect x="139.53" y="482.55" width="3.90" height="3.90" fill="#1818e8"/>
<rect x="95.99" y="490.85" width="3.90" height="3.90" fill="#1818e8"/>
<rect x="74.22" y="497.55" width="3.90" height="3.90" fill="#1818e8"/>
<rect x="63.33" y="498.55" width="3.90" height="3.90" fill="#1818e8"/>
<rect x="226.61" y="447.65" width="3.90" height="3.90" fill="#58c0ee"/>
<rect x="139.53" y="471.45" width="3.90" height="3.90" fill="#58c0ee"/>
<rect x="95.99" y="482.85" width="3.90" height="3.90" fill="#58c0ee"/>
<rect x="74.22" y="492.55" width="3.90" height="3.90" fill="#58c0ee"/>
<rect x="63.33" y="496.95" width="3.90" height="3.90" fill="#58c0ee"/>
<rect x="226.61" y="431.85" width="3.90" height="3.90" fill="#30c030"/>
<rect x="139.53" y="418.15" width="3.90" height="3.90" fill="#30c030"/>
<rect x="95.99" y="453.35" width="3.90" height="3.90" fill="#30c030"/>
<rect x="74.22" y="477.95" width="3.90" height="3.90" fill="#30c030"/>
<rect x="63.33" y="491.85" width="3.90" height="3.90" fill="#30c030"/>
<rect x="226.61" y="481.25" width="3.90" height="3.90" fill="#b030c0"/>
<rect x="139.53" y="481.25" width="3.90" height="3.90" fill="#b030c0"/>
<rect x="95.99" y="490.25" width="3.90" height="3.90" fill="#b030c0"/>
<rect x="74.22" y="496.55" width="3.90" height="3.90" fill="#b030c0"/>
<rect x="63.33" y="494.25" width="3.90" height="3.90" fill="#b030c0"/>
<rect x="52.45" y="502.45" width="3.90" height="3.90" fill="#b030c0"/>
<rect x="70.90" y="502.8" width="7.4" height="7.4" fill="#111111"/>
<text x="80.30" y="510.80" font-size="9.5" text-anchor="start" font-weight="bold" fill="#111" >1</text>
<rect x="95.20" y="502.8" width="7.4" height="7.4" fill="#f42020"/>
<text x="104.00" y="510.80" font-size="9.5" text-anchor="start" font-weight="bold" fill="#111" >2</text>
<rect x="116.80" y="502.8" width="7.4" height="7.4" fill="#30c030"/>
<text x="125.80" y="510.80" font-size="9.5" text-anchor="start" font-weight="bold" fill="#111" >3</text>
<rect x="138.40" y="502.8" width="7.4" height="7.4" fill="#58c0ee"/>
<text x="146.80" y="510.80" font-size="9.5" text-anchor="start" font-weight="bold" fill="#111" >4</text>
<rect x="162.90" y="502.8" width="7.4" height="7.4" fill="#b030c0"/>
<text x="174.70" y="510.80" font-size="9.5" text-anchor="start" font-weight="bold" fill="#111" >5</text>
<rect x="192.00" y="501.6" width="7.4" height="7.4" fill="#1818e8"/>
<text x="204.00" y="510.80" font-size="9.5" text-anchor="start" font-weight="bold" fill="#111" >6</text>
<text x="262.50" y="371.00" font-size="11.5" text-anchor="start" font-weight="bold" fill="#111" >F</text>
<line x1="305.10" y1="371.60" x2="305.10" y2="511.20" stroke="#111" stroke-width="1.3"/>
<line x1="305.10" y1="511.20" x2="483.40" y2="511.20" stroke="#111" stroke-width="1.3"/>
<line x1="302.10" y1="501.00" x2="305.10" y2="501.00" stroke="#111" stroke-width="1.1"/>
<text x="301.20" y="505.20" font-size="11.8" text-anchor="end" font-weight="normal" fill="#222" >0.0</text>
<line x1="302.10" y1="463.70" x2="305.10" y2="463.70" stroke="#111" stroke-width="1.1"/>
<text x="301.20" y="467.90" font-size="11.8" text-anchor="end" font-weight="normal" fill="#222" >0.1</text>
<line x1="302.10" y1="426.40" x2="305.10" y2="426.40" stroke="#111" stroke-width="1.1"/>
<text x="301.20" y="430.60" font-size="11.8" text-anchor="end" font-weight="normal" fill="#222" >0.2</text>
<line x1="302.10" y1="389.10" x2="305.10" y2="389.10" stroke="#111" stroke-width="1.1"/>
<text x="301.20" y="393.30" font-size="11.8" text-anchor="end" font-weight="normal" fill="#222" >0.3</text>
<line x1="303.10" y1="482.35" x2="305.10" y2="482.35" stroke="#111" stroke-width="1.0"/>
<line x1="303.10" y1="445.05" x2="305.10" y2="445.05" stroke="#111" stroke-width="1.0"/>
<line x1="303.10" y1="407.75" x2="305.10" y2="407.75" stroke="#111" stroke-width="1.0"/>
<line x1="303.10" y1="370.45" x2="305.10" y2="370.45" stroke="#111" stroke-width="1.0"/>
<line x1="317.60" y1="511.20" x2="317.60" y2="514.20" stroke="#111" stroke-width="1.0"/>
<line x1="336.90" y1="511.20" x2="336.90" y2="513.20" stroke="#111" stroke-width="1.0"/>
<line x1="356.20" y1="511.20" x2="356.20" y2="514.20" stroke="#111" stroke-width="1.0"/>
<line x1="375.50" y1="511.20" x2="375.50" y2="513.20" stroke="#111" stroke-width="1.0"/>
<line x1="394.80" y1="511.20" x2="394.80" y2="514.20" stroke="#111" stroke-width="1.0"/>
<line x1="414.10" y1="511.20" x2="414.10" y2="513.20" stroke="#111" stroke-width="1.0"/>
<line x1="433.40" y1="511.20" x2="433.40" y2="514.20" stroke="#111" stroke-width="1.0"/>
<line x1="452.70" y1="511.20" x2="452.70" y2="513.20" stroke="#111" stroke-width="1.0"/>
<line x1="472.00" y1="511.20" x2="472.00" y2="514.20" stroke="#111" stroke-width="1.0"/>
<text x="318.30" y="525.30" font-size="11.6" text-anchor="middle" font-weight="normal" fill="#222" >0</text>
<text x="356.00" y="525.30" font-size="11.6" text-anchor="middle" font-weight="normal" fill="#222" >4</text>
<text x="395.00" y="525.30" font-size="11.6" text-anchor="middle" font-weight="normal" fill="#222" >8</text>
<text x="436.40" y="525.30" font-size="11.6" text-anchor="middle" font-weight="normal" fill="#222" >12</text>
<text x="474.50" y="525.30" font-size="11.6" text-anchor="middle" font-weight="normal" fill="#222" >16</text>
<text x="393.70" y="542.30" font-size="11.9" text-anchor="middle" font-weight="normal" fill="#222" >[PI2A]/[PDZ2]</text>
<text transform="translate(278.8,441.9) rotate(-90)" font-size="12.1" text-anchor="middle" fill="#222">chemical shift changes</text>
<text x="309.6" y="377.5" font-size="12" fill="#222">K<tspan font-size="7.5" dy="2.5">d</tspan><tspan dy="-2.5"> = 0.50 ± 0.06 mM</tspan></text>
<polyline points="317.60,501.20 317.82,500.70 318.21,499.80 318.72,498.63 319.33,497.28 320.01,495.76 320.77,494.11 321.60,492.34 322.48,490.49 323.43,488.55 324.42,486.54 325.47,484.47 326.57,482.36 327.71,480.20 328.90,478.02 330.14,475.81 331.41,473.58 332.72,471.34 334.08,469.10 335.47,466.85 336.90,464.60 338.37,462.36 339.87,460.12 341.40,457.90 342.97,455.69 344.57,453.50 346.21,451.32 347.87,449.17 349.57,447.04 351.30,444.93 353.06,442.84 354.84,440.78 356.66,438.75 358.51,436.75 360.38,434.77 362.28,432.82 364.21,430.90 366.16,429.01 368.15,427.14 370.15,425.31 372.19,423.51 374.25,421.73 376.33,419.99 378.44,418.27 380.58,416.59 382.74,414.93 384.92,413.30 387.13,411.70 389.36,410.13 391.61,408.58 393.89,407.07 396.19,405.58 398.51,404.11 400.86,402.68 403.23,401.26 405.61,399.88 408.03,398.52 410.46,397.18 412.91,395.87 415.39,394.59 417.89,393.32 420.40,392.08 422.94,390.87 425.50,389.67 428.08,388.50 430.68,387.35 433.30,386.21 435.94,385.10 438.60,384.01 441.28,382.94 443.97,381.89 446.69,380.86 449.43,379.85 452.18,378.85 454.96,377.88 457.75,376.92 460.57,375.97 463.40,375.05 466.25,374.14 469.11,373.25 472.00,372.37" fill="none" stroke="#f01c1c" stroke-width="1.5"/>
<polyline points="317.60,501.20 317.82,501.00 318.21,500.65 318.72,500.20 319.33,499.66 320.01,499.07 320.77,498.43 321.60,497.74 322.48,497.02 323.43,496.27 324.42,495.50 325.47,494.70 326.57,493.89 327.71,493.07 328.90,492.23 330.14,491.39 331.41,490.55 332.72,489.70 334.08,488.85 335.47,488.00 336.90,487.16 338.37,486.32 339.87,485.49 341.40,484.66 342.97,483.84 344.57,483.02 346.21,482.22 347.87,481.43 349.57,480.64 351.30,479.87 353.06,479.11 354.84,478.35 356.66,477.61 358.51,476.89 360.38,476.17 362.28,475.47 364.21,474.77 366.16,474.09 368.15,473.42 370.15,472.77 372.19,472.12 374.25,471.49 376.33,470.87 378.44,470.26 380.58,469.66 382.74,469.07 384.92,468.50 387.13,467.94 389.36,467.38 391.61,466.84 393.89,466.31 396.19,465.79 398.51,465.28 400.86,464.77 403.23,464.28 405.61,463.80 408.03,463.33 410.46,462.87 412.91,462.41 415.39,461.97 417.89,461.53 420.40,461.11 422.94,460.69 425.50,460.28 428.08,459.88 430.68,459.48 433.30,459.09 435.94,458.72 438.60,458.34 441.28,457.98 443.97,457.62 446.69,457.27 449.43,456.93 452.18,456.59 454.96,456.26 457.75,455.93 460.57,455.62 463.40,455.30 466.25,455.00 469.11,454.70 472.00,454.40" fill="none" stroke="#f01c1c" stroke-width="1.5"/>
<polyline points="317.60,501.20 317.82,501.05 318.21,500.78 318.72,500.43 319.33,500.03 320.01,499.57 320.77,499.08 321.60,498.56 322.48,498.01 323.43,497.43 324.42,496.84 325.47,496.23 326.57,495.61 327.71,494.98 328.90,494.34 330.14,493.70 331.41,493.05 332.72,492.40 334.08,491.75 335.47,491.11 336.90,490.46 338.37,489.82 339.87,489.18 341.40,488.55 342.97,487.92 344.57,487.30 346.21,486.68 347.87,486.07 349.57,485.47 351.30,484.88 353.06,484.30 354.84,483.72 356.66,483.16 358.51,482.60 360.38,482.05 362.28,481.51 364.21,480.98 366.16,480.46 368.15,479.95 370.15,479.45 372.19,478.96 374.25,478.47 376.33,478.00 378.44,477.53 380.58,477.07 382.74,476.63 384.92,476.19 387.13,475.75 389.36,475.33 391.61,474.92 393.89,474.51 396.19,474.11 398.51,473.72 400.86,473.34 403.23,472.96 405.61,472.59 408.03,472.23 410.46,471.88 412.91,471.53 415.39,471.19 417.89,470.86 420.40,470.53 422.94,470.21 425.50,469.90 428.08,469.59 430.68,469.29 433.30,468.99 435.94,468.70 438.60,468.42 441.28,468.14 443.97,467.86 446.69,467.60 449.43,467.33 452.18,467.07 454.96,466.82 457.75,466.57 460.57,466.33 463.40,466.09 466.25,465.86 469.11,465.63 472.00,465.40" fill="none" stroke="#f01c1c" stroke-width="1.5"/>
<polyline points="317.60,501.20 317.82,501.11 318.21,500.94 318.72,500.73 319.33,500.48 320.01,500.20 320.77,499.90 321.60,499.58 322.48,499.25 323.43,498.89 324.42,498.53 325.47,498.16 326.57,497.78 327.71,497.39 328.90,497.00 330.14,496.61 331.41,496.22 332.72,495.82 334.08,495.42 335.47,495.03 336.90,494.63 338.37,494.24 339.87,493.85 341.40,493.46 342.97,493.07 344.57,492.69 346.21,492.32 347.87,491.95 349.57,491.58 351.30,491.22 353.06,490.86 354.84,490.51 356.66,490.16 358.51,489.82 360.38,489.49 362.28,489.16 364.21,488.83 366.16,488.51 368.15,488.20 370.15,487.89 372.19,487.59 374.25,487.30 376.33,487.01 378.44,486.72 380.58,486.44 382.74,486.17 384.92,485.90 387.13,485.63 389.36,485.37 391.61,485.12 393.89,484.87 396.19,484.63 398.51,484.39 400.86,484.15 403.23,483.93 405.61,483.70 408.03,483.48 410.46,483.26 412.91,483.05 415.39,482.84 417.89,482.64 420.40,482.44 422.94,482.24 425.50,482.05 428.08,481.86 430.68,481.68 433.30,481.50 435.94,481.32 438.60,481.15 441.28,480.97 443.97,480.81 446.69,480.64 449.43,480.48 452.18,480.32 454.96,480.17 457.75,480.02 460.57,479.87 463.40,479.72 466.25,479.58 469.11,479.44 472.00,479.30" fill="none" stroke="#f01c1c" stroke-width="1.5"/>
<polyline points="317.60,501.20 317.82,501.12 318.21,500.97 318.72,500.79 319.33,500.57 320.01,500.33 320.77,500.06 321.60,499.78 322.48,499.49 323.43,499.18 324.42,498.86 325.47,498.53 326.57,498.20 327.71,497.86 328.90,497.52 330.14,497.18 331.41,496.83 332.72,496.48 334.08,496.13 335.47,495.79 336.90,495.44 338.37,495.10 339.87,494.75 341.40,494.41 342.97,494.08 344.57,493.74 346.21,493.41 347.87,493.09 349.57,492.77 351.30,492.45 353.06,492.14 354.84,491.83 356.66,491.52 358.51,491.23 360.38,490.93 362.28,490.64 364.21,490.36 366.16,490.08 368.15,489.80 370.15,489.54 372.19,489.27 374.25,489.01 376.33,488.76 378.44,488.51 380.58,488.26 382.74,488.02 384.92,487.78 387.13,487.55 389.36,487.33 391.61,487.10 393.89,486.89 396.19,486.67 398.51,486.46 400.86,486.26 403.23,486.05 405.61,485.86 408.03,485.66 410.46,485.47 412.91,485.29 415.39,485.11 417.89,484.93 420.40,484.75 422.94,484.58 425.50,484.41 428.08,484.25 430.68,484.08 433.30,483.93 435.94,483.77 438.60,483.62 441.28,483.47 443.97,483.32 446.69,483.18 449.43,483.04 452.18,482.90 454.96,482.76 457.75,482.63 460.57,482.50 463.40,482.37 466.25,482.24 469.11,482.12 472.00,482.00" fill="none" stroke="#f01c1c" stroke-width="1.5"/>
<polyline points="317.60,501.20 317.82,501.14 318.21,501.04 318.72,500.91 319.33,500.75 320.01,500.58 320.77,500.40 321.60,500.20 322.48,499.99 323.43,499.77 324.42,499.54 325.47,499.31 326.57,499.08 327.71,498.84 328.90,498.59 330.14,498.35 331.41,498.10 332.72,497.86 334.08,497.61 335.47,497.37 336.90,497.12 338.37,496.88 339.87,496.63 341.40,496.39 342.97,496.15 344.57,495.92 346.21,495.68 347.87,495.45 349.57,495.23 351.30,495.00 353.06,494.78 354.84,494.56 356.66,494.35 358.51,494.13 360.38,493.93 362.28,493.72 364.21,493.52 366.16,493.32 368.15,493.13 370.15,492.94 372.19,492.75 374.25,492.57 376.33,492.39 378.44,492.21 380.58,492.03 382.74,491.86 384.92,491.70 387.13,491.53 389.36,491.37 391.61,491.21 393.89,491.06 396.19,490.91 398.51,490.76 400.86,490.61 403.23,490.47 405.61,490.33 408.03,490.20 410.46,490.06 412.91,489.93 415.39,489.80 417.89,489.67 420.40,489.55 422.94,489.43 425.50,489.31 428.08,489.19 430.68,489.08 433.30,488.96 435.94,488.85 438.60,488.75 441.28,488.64 443.97,488.54 446.69,488.43 449.43,488.33 452.18,488.24 454.96,488.14 457.75,488.05 460.57,487.95 463.40,487.86 466.25,487.77 469.11,487.69 472.00,487.60" fill="none" stroke="#f01c1c" stroke-width="1.5"/>
<rect x="315.60" y="499.50" width="4.00" height="4.00" fill="#8a7a1a"/>
<rect x="334.90" y="472.30" width="4.00" height="4.00" fill="#111111"/>
<rect x="354.20" y="437.50" width="4.00" height="4.00" fill="#111111"/>
<rect x="392.80" y="408.70" width="4.00" height="4.00" fill="#111111"/>
<rect x="470.00" y="365.30" width="4.00" height="4.00" fill="#111111"/>
<rect x="470.00" y="453.10" width="4.00" height="4.00" fill="#f42020"/>
<rect x="392.80" y="463.10" width="4.00" height="4.00" fill="#f42020"/>
<rect x="470.00" y="479.50" width="4.00" height="4.00" fill="#f42020"/>
<rect x="470.00" y="476.60" width="4.00" height="4.00" fill="#22cc22"/>
<rect x="392.80" y="484.50" width="4.00" height="4.00" fill="#22cc22"/>
<rect x="354.20" y="487.00" width="4.00" height="4.00" fill="#22cc22"/>
<rect x="334.90" y="491.00" width="4.00" height="4.00" fill="#22cc22"/>
<rect x="470.00" y="467.60" width="4.00" height="4.00" fill="#8a7a1a"/>
<rect x="392.80" y="471.10" width="4.00" height="4.00" fill="#8a7a1a"/>
<rect x="354.20" y="475.00" width="4.00" height="4.00" fill="#8a7a1a"/>
<rect x="334.90" y="485.60" width="4.00" height="4.00" fill="#8a7a1a"/>
<rect x="470.00" y="480.80" width="4.00" height="4.00" fill="#e8c800"/>
<rect x="392.80" y="483.00" width="4.00" height="4.00" fill="#e8c800"/>
<rect x="354.20" y="479.80" width="4.00" height="4.00" fill="#e8c800"/>
<rect x="334.90" y="489.40" width="4.00" height="4.00" fill="#e8c800"/>
<rect x="470.00" y="486.20" width="4.00" height="4.00" fill="#66bbee"/>
<rect x="392.80" y="488.80" width="4.00" height="4.00" fill="#66bbee"/>
<rect x="354.20" y="492.70" width="4.00" height="4.00" fill="#66bbee"/>
<rect x="334.90" y="495.20" width="4.00" height="4.00" fill="#66bbee"/>
<rect x="455" y="386.20" width="7.2" height="6.5" fill="#111111"/>
<text x="466.10" y="392.80" font-size="9.5" text-anchor="start" font-weight="bold" fill="#111" >A</text>
<rect x="455" y="395.50" width="7.2" height="6.5" fill="#f42020"/>
<text x="466.10" y="402.10" font-size="9.5" text-anchor="start" font-weight="bold" fill="#111" >B</text>
<rect x="455" y="405.65" width="7.2" height="6.5" fill="#8a7a1a"/>
<text x="466.10" y="412.25" font-size="9.5" text-anchor="start" font-weight="bold" fill="#111" >C</text>
<rect x="455" y="415.80" width="7.2" height="6.5" fill="#e8c800"/>
<text x="466.10" y="422.40" font-size="9.5" text-anchor="start" font-weight="bold" fill="#111" >D</text>
<rect x="455" y="425.60" width="7.2" height="6.5" fill="#22cc22"/>
<text x="466.10" y="432.20" font-size="9.5" text-anchor="start" font-weight="bold" fill="#111" >E</text>
<rect x="455" y="434.80" width="7.2" height="6.5" fill="#66bbee"/>
<text x="466.10" y="441.40" font-size="9.5" text-anchor="start" font-weight="bold" fill="#111" >F</text>
<line x1="92.30" y1="401.80" x2="103.20" y2="401.80" stroke="#1a1a1a" stroke-width="1.6" stroke-linecap="round"/>
<line x1="103.20" y1="401.80" x2="108.20" y2="409.60" stroke="#1a1a1a" stroke-width="1.6" stroke-linecap="round"/>
<line x1="108.20" y1="409.60" x2="103.20" y2="417.40" stroke="#1a1a1a" stroke-width="1.6" stroke-linecap="round"/>
<line x1="103.20" y1="417.40" x2="92.30" y2="417.40" stroke="#1a1a1a" stroke-width="1.6" stroke-linecap="round"/>
<line x1="92.30" y1="417.40" x2="87.60" y2="409.60" stroke="#1a1a1a" stroke-width="1.6" stroke-linecap="round"/>
<line x1="87.60" y1="409.60" x2="92.30" y2="401.80" stroke="#1a1a1a" stroke-width="1.6" stroke-linecap="round"/>
<line x1="102.83" y1="404.48" x2="105.39" y2="408.48" stroke="#1a1a1a" stroke-width="1.6" stroke-linecap="round"/>
<line x1="100.54" y1="415.84" x2="94.96" y2="415.84" stroke="#1a1a1a" stroke-width="1.6" stroke-linecap="round"/>
<line x1="90.31" y1="408.48" x2="92.71" y2="404.48" stroke="#1a1a1a" stroke-width="1.6" stroke-linecap="round"/>
<line x1="73.50" y1="419.50" x2="62.60" y2="419.50" stroke="#1a1a1a" stroke-width="1.6" stroke-linecap="round"/>
<line x1="62.60" y1="419.50" x2="57.90" y2="427.60" stroke="#1a1a1a" stroke-width="1.6" stroke-linecap="round"/>
<line x1="57.90" y1="427.60" x2="62.60" y2="435.80" stroke="#1a1a1a" stroke-width="1.6" stroke-linecap="round"/>
<line x1="62.60" y1="435.80" x2="73.50" y2="435.80" stroke="#1a1a1a" stroke-width="1.6" stroke-linecap="round"/>
<line x1="73.50" y1="435.80" x2="78.20" y2="427.60" stroke="#1a1a1a" stroke-width="1.6" stroke-linecap="round"/>
<line x1="78.20" y1="427.60" x2="73.50" y2="419.50" stroke="#1a1a1a" stroke-width="1.6" stroke-linecap="round"/>
<line x1="70.83" y1="421.12" x2="65.25" y2="421.12" stroke="#1a1a1a" stroke-width="1.6" stroke-linecap="round"/>
<line x1="60.60" y1="428.78" x2="63.00" y2="432.98" stroke="#1a1a1a" stroke-width="1.6" stroke-linecap="round"/>
<line x1="73.08" y1="432.98" x2="75.48" y2="428.78" stroke="#1a1a1a" stroke-width="1.6" stroke-linecap="round"/>
<line x1="92.30" y1="401.80" x2="87.60" y2="393.60" stroke="#1a1a1a" stroke-width="1.6" stroke-linecap="round"/>
<line x1="87.60" y1="393.60" x2="91.50" y2="387.50" stroke="#1a1a1a" stroke-width="1.6" stroke-linecap="round"/>
<line x1="87.60" y1="393.60" x2="80.50" y2="393.40" stroke="#1a1a1a" stroke-width="1.6" stroke-linecap="round"/>
<line x1="87.20" y1="395.40" x2="80.50" y2="395.20" stroke="#1a1a1a" stroke-width="1.6" stroke-linecap="round"/>
<line x1="87.60" y1="409.60" x2="84.20" y2="409.80" stroke="#1a1a1a" stroke-width="1.6" stroke-linecap="round"/>
<line x1="77.00" y1="412.00" x2="73.50" y2="419.50" stroke="#1a1a1a" stroke-width="1.6" stroke-linecap="round"/>
<line x1="57.90" y1="427.60" x2="52.00" y2="427.80" stroke="#1a1a1a" stroke-width="1.6" stroke-linecap="round"/>
<line x1="62.60" y1="435.80" x2="60.00" y2="440.20" stroke="#1a1a1a" stroke-width="1.6" stroke-linecap="round"/>
<text x="78.7" y="395.8" font-size="6" fill="#333" text-anchor="middle">O</text>
<text x="95.8" y="386.2" font-size="5.5" fill="#333" text-anchor="middle">OH</text>
<text x="80.3" y="412.2" font-size="5.5" fill="#333" text-anchor="middle">NH</text>
<text x="46" y="430" font-size="5.5" fill="#333" text-anchor="middle">H<tspan font-size="4" dy="1">3</tspan><tspan dy="-1">C</tspan></text>
<text x="59" y="446.5" font-size="6" fill="#333" text-anchor="middle">Cl</text>
<line x1="319.56" y1="401.75" x2="325.75" y2="395.34" stroke="#1a1a1a" stroke-width="1.6" stroke-linecap="round"/>
<line x1="325.75" y1="395.34" x2="334.38" y2="397.50" stroke="#1a1a1a" stroke-width="1.6" stroke-linecap="round"/>
<line x1="334.38" y1="397.50" x2="336.84" y2="406.05" stroke="#1a1a1a" stroke-width="1.6" stroke-linecap="round"/>
<line x1="336.84" y1="406.05" x2="330.65" y2="412.46" stroke="#1a1a1a" stroke-width="1.6" stroke-linecap="round"/>
<line x1="330.65" y1="412.46" x2="322.02" y2="410.30" stroke="#1a1a1a" stroke-width="1.6" stroke-linecap="round"/>
<line x1="322.02" y1="410.30" x2="319.56" y2="401.75" stroke="#1a1a1a" stroke-width="1.6" stroke-linecap="round"/>
<line x1="327.48" y1="397.37" x2="331.90" y2="398.47" stroke="#1a1a1a" stroke-width="1.6" stroke-linecap="round"/>
<line x1="334.22" y1="406.54" x2="331.05" y2="409.82" stroke="#1a1a1a" stroke-width="1.6" stroke-linecap="round"/>
<line x1="322.90" y1="407.79" x2="321.64" y2="403.41" stroke="#1a1a1a" stroke-width="1.6" stroke-linecap="round"/>
<line x1="344.80" y1="408.90" x2="351.80" y2="401.80" stroke="#1a1a1a" stroke-width="1.6" stroke-linecap="round"/>
<line x1="351.80" y1="401.80" x2="358.80" y2="407.30" stroke="#1a1a1a" stroke-width="1.6" stroke-linecap="round"/>
<line x1="358.80" y1="407.30" x2="357.30" y2="416.70" stroke="#1a1a1a" stroke-width="1.6" stroke-linecap="round"/>
<line x1="357.30" y1="416.70" x2="347.90" y2="418.20" stroke="#1a1a1a" stroke-width="1.6" stroke-linecap="round"/>
<line x1="347.90" y1="418.20" x2="344.80" y2="408.90" stroke="#1a1a1a" stroke-width="1.6" stroke-linecap="round"/>
<line x1="352.76" y1="404.98" x2="355.99" y2="407.51" stroke="#1a1a1a" stroke-width="1.6" stroke-linecap="round"/>
<line x1="348.65" y1="414.87" x2="347.22" y2="410.58" stroke="#1a1a1a" stroke-width="1.6" stroke-linecap="round"/>
<line x1="319.56" y1="401.75" x2="313.80" y2="400.30" stroke="#1a1a1a" stroke-width="1.6" stroke-linecap="round"/>
<line x1="336.84" y1="406.05" x2="344.80" y2="408.90" stroke="#1a1a1a" stroke-width="1.6" stroke-linecap="round"/>
<line x1="358.80" y1="407.30" x2="368.20" y2="403.40" stroke="#1a1a1a" stroke-width="1.6" stroke-linecap="round"/>
<line x1="368.20" y1="403.40" x2="369.00" y2="395.20" stroke="#1a1a1a" stroke-width="1.6" stroke-linecap="round"/>
<line x1="366.40" y1="403.20" x2="367.00" y2="395.60" stroke="#1a1a1a" stroke-width="1.6" stroke-linecap="round"/>
<line x1="368.20" y1="403.40" x2="373.20" y2="407.30" stroke="#1a1a1a" stroke-width="1.6" stroke-linecap="round"/>
<text x="311" y="402" font-size="6.5" fill="#333" text-anchor="middle">F</text>
<text x="369.2" y="394" font-size="6" fill="#333" text-anchor="middle">O</text>
<text transform="translate(377.5,406.5) rotate(60)" font-size="5.8" fill="#333" text-anchor="middle">OH</text>
<text transform="translate(347.5,423) rotate(-35)" font-size="5.5" fill="#333" text-anchor="middle">N</text>
<text transform="translate(357,421.5) rotate(35)" font-size="5.5" fill="#333" text-anchor="middle">N</text>
<text x="362" y="424.5" font-size="6" fill="#333" text-anchor="middle">H</text>
</svg></body></html>
